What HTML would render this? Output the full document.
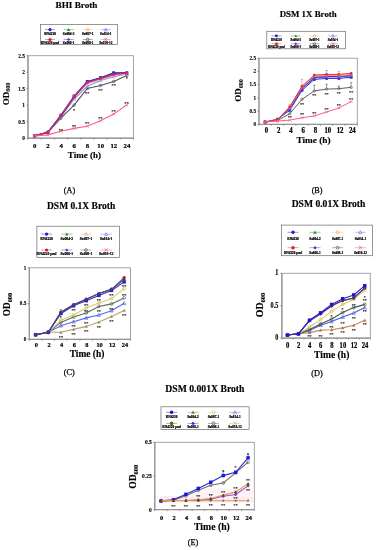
<!DOCTYPE html>
<html><head><meta charset="utf-8"><style>
html,body{margin:0;padding:0;background:#fff;}
svg{display:block;filter:blur(0.45px);}
</style></head><body>
<svg width="378" height="550" viewBox="0 0 378 550">
<rect width="378" height="550" fill="#fff"/>
<text x="76.50" y="8.30" font-family='"Liberation Serif", serif' font-size="9.2" font-weight="bold" text-anchor="middle" fill="#000" stroke="#000" stroke-width="0.15">BHI Broth</text>
<rect x="40.4" y="24.6" width="77.1" height="19.799999999999997" fill="none" stroke="#6a6a6a" stroke-width="0.7"/>
<line x1="45.00" y1="29.60" x2="55.00" y2="29.60" stroke="#1a1ad8" stroke-width="0.6" stroke-opacity="0.75"/>
<circle cx="50.00" cy="29.60" r="1.60" fill="#1a1ad8"/>
<text x="50.00" y="34.62" font-family='"Liberation Serif", serif' font-size="3.4" font-weight="bold" text-anchor="middle" fill="#000" stroke="#000" stroke-width="0.2">RN4220</text>
<line x1="63.60" y1="29.60" x2="73.60" y2="29.60" stroke="#2a8a2a" stroke-width="0.6" stroke-opacity="0.75"/>
<path d="M68.60,28.00L70.20,30.88L67.00,30.88Z" fill="#2a8a2a"/>
<text x="68.60" y="34.62" font-family='"Liberation Serif", serif' font-size="3.4" font-weight="bold" text-anchor="middle" fill="#000" stroke="#000" stroke-width="0.2">Sa004-2</text>
<line x1="82.70" y1="29.60" x2="92.70" y2="29.60" stroke="#f0a868" stroke-width="0.6" stroke-opacity="0.75"/>
<circle cx="87.70" cy="29.60" r="1.36" fill="none" stroke="#f0a868" stroke-width="0.7"/>
<text x="87.70" y="34.62" font-family='"Liberation Serif", serif' font-size="3.4" font-weight="bold" text-anchor="middle" fill="#000" stroke="#000" stroke-width="0.2">Sa007-1</text>
<line x1="100.80" y1="29.60" x2="110.80" y2="29.60" stroke="#6a6af0" stroke-width="0.6" stroke-opacity="0.75"/>
<path d="M105.80,28.00L107.40,30.88L104.20,30.88Z" fill="none" stroke="#6a6af0" stroke-width="0.6"/>
<text x="105.80" y="34.62" font-family='"Liberation Serif", serif' font-size="3.4" font-weight="bold" text-anchor="middle" fill="#000" stroke="#000" stroke-width="0.2">Sa014-1</text>
<line x1="45.00" y1="39.50" x2="55.00" y2="39.50" stroke="#e01828" stroke-width="0.6" stroke-opacity="0.75"/>
<circle cx="50.00" cy="39.50" r="1.60" fill="#e01828"/>
<text x="50.00" y="43.92" font-family='"Liberation Serif", serif' font-size="3.4" font-weight="bold" text-anchor="middle" fill="#000" stroke="#000" stroke-width="0.2">RN4220 pmf</text>
<line x1="63.60" y1="39.50" x2="73.60" y2="39.50" stroke="#7020d0" stroke-width="0.6" stroke-opacity="0.75"/>
<path d="M68.60,37.90L70.20,39.50L68.60,41.10L67.00,39.50Z" fill="#7020d0"/>
<text x="68.60" y="43.92" font-family='"Liberation Serif", serif' font-size="3.4" font-weight="bold" text-anchor="middle" fill="#000" stroke="#000" stroke-width="0.2">Sa006-1</text>
<line x1="82.70" y1="39.50" x2="92.70" y2="39.50" stroke="#505050" stroke-width="0.6" stroke-opacity="0.75"/>
<circle cx="87.70" cy="39.50" r="1.36" fill="none" stroke="#505050" stroke-width="0.7"/>
<text x="87.70" y="43.92" font-family='"Liberation Serif", serif' font-size="3.4" font-weight="bold" text-anchor="middle" fill="#000" stroke="#000" stroke-width="0.2">Sa008-1</text>
<line x1="100.80" y1="39.50" x2="110.80" y2="39.50" stroke="#f05070" stroke-width="0.6" stroke-opacity="0.75"/>
<path d="M104.20,37.90L107.40,41.10M107.40,37.90L104.20,41.10" stroke="#f05070" stroke-width="0.7"/>
<text x="105.80" y="43.92" font-family='"Liberation Serif", serif' font-size="3.4" font-weight="bold" text-anchor="middle" fill="#000" stroke="#000" stroke-width="0.2">Sa010-12</text>
<rect x="28" y="55.7" width="105.4" height="82.49999999999999" fill="none" stroke="#9a9a9a" stroke-width="0.9"/>
<line x1="28" y1="55.7" x2="28" y2="138.2" stroke="#959595" stroke-width="1.2"/>
<line x1="28" y1="138.2" x2="133.4" y2="138.2" stroke="#959595" stroke-width="1.3"/>
<line x1="26.5" y1="138.20" x2="28" y2="138.20" stroke="#6a6a6a" stroke-width="0.7"/>
<text transform="translate(25.00,140.04) scale(1,1.2)" font-family='"Liberation Serif", serif' font-size="5.4" font-weight="bold" text-anchor="end" stroke="#000" stroke-width="0.12">0</text>
<line x1="26.5" y1="121.70" x2="28" y2="121.70" stroke="#6a6a6a" stroke-width="0.7"/>
<text transform="translate(25.00,123.54) scale(1,1.2)" font-family='"Liberation Serif", serif' font-size="5.4" font-weight="bold" text-anchor="end" stroke="#000" stroke-width="0.12">0.5</text>
<line x1="26.5" y1="105.20" x2="28" y2="105.20" stroke="#6a6a6a" stroke-width="0.7"/>
<text transform="translate(25.00,107.04) scale(1,1.2)" font-family='"Liberation Serif", serif' font-size="5.4" font-weight="bold" text-anchor="end" stroke="#000" stroke-width="0.12">1</text>
<line x1="26.5" y1="88.70" x2="28" y2="88.70" stroke="#6a6a6a" stroke-width="0.7"/>
<text transform="translate(25.00,90.54) scale(1,1.2)" font-family='"Liberation Serif", serif' font-size="5.4" font-weight="bold" text-anchor="end" stroke="#000" stroke-width="0.12">1.5</text>
<line x1="26.5" y1="72.20" x2="28" y2="72.20" stroke="#6a6a6a" stroke-width="0.7"/>
<text transform="translate(25.00,74.04) scale(1,1.2)" font-family='"Liberation Serif", serif' font-size="5.4" font-weight="bold" text-anchor="end" stroke="#000" stroke-width="0.12">2</text>
<line x1="26.5" y1="55.70" x2="28" y2="55.70" stroke="#6a6a6a" stroke-width="0.7"/>
<text transform="translate(25.00,57.54) scale(1,1.2)" font-family='"Liberation Serif", serif' font-size="5.4" font-weight="bold" text-anchor="end" stroke="#000" stroke-width="0.12">2.5</text>
<line x1="28.00" y1="138.2" x2="28.00" y2="139.7" stroke="#6a6a6a" stroke-width="0.6"/>
<line x1="41.17" y1="138.2" x2="41.17" y2="139.7" stroke="#6a6a6a" stroke-width="0.6"/>
<line x1="54.35" y1="138.2" x2="54.35" y2="139.7" stroke="#6a6a6a" stroke-width="0.6"/>
<line x1="67.53" y1="138.2" x2="67.53" y2="139.7" stroke="#6a6a6a" stroke-width="0.6"/>
<line x1="80.70" y1="138.2" x2="80.70" y2="139.7" stroke="#6a6a6a" stroke-width="0.6"/>
<line x1="93.88" y1="138.2" x2="93.88" y2="139.7" stroke="#6a6a6a" stroke-width="0.6"/>
<line x1="107.05" y1="138.2" x2="107.05" y2="139.7" stroke="#6a6a6a" stroke-width="0.6"/>
<line x1="120.23" y1="138.2" x2="120.23" y2="139.7" stroke="#6a6a6a" stroke-width="0.6"/>
<line x1="133.40" y1="138.2" x2="133.40" y2="139.7" stroke="#6a6a6a" stroke-width="0.6"/>
<text transform="translate(34.79,148.41) scale(1,1.03)" font-family='"Liberation Serif", serif' font-size="6.8" font-weight="bold" text-anchor="middle" stroke="#000" stroke-width="0.2">0</text>
<text transform="translate(47.96,148.41) scale(1,1.03)" font-family='"Liberation Serif", serif' font-size="6.8" font-weight="bold" text-anchor="middle" stroke="#000" stroke-width="0.2">2</text>
<text transform="translate(61.14,148.41) scale(1,1.03)" font-family='"Liberation Serif", serif' font-size="6.8" font-weight="bold" text-anchor="middle" stroke="#000" stroke-width="0.2">4</text>
<text transform="translate(74.31,148.41) scale(1,1.03)" font-family='"Liberation Serif", serif' font-size="6.8" font-weight="bold" text-anchor="middle" stroke="#000" stroke-width="0.2">6</text>
<text transform="translate(87.49,148.41) scale(1,1.03)" font-family='"Liberation Serif", serif' font-size="6.8" font-weight="bold" text-anchor="middle" stroke="#000" stroke-width="0.2">8</text>
<text transform="translate(100.66,148.41) scale(1,1.03)" font-family='"Liberation Serif", serif' font-size="6.8" font-weight="bold" text-anchor="middle" stroke="#000" stroke-width="0.2">10</text>
<text transform="translate(113.84,148.41) scale(1,1.03)" font-family='"Liberation Serif", serif' font-size="6.8" font-weight="bold" text-anchor="middle" stroke="#000" stroke-width="0.2">12</text>
<text transform="translate(127.01,148.41) scale(1,1.03)" font-family='"Liberation Serif", serif' font-size="6.8" font-weight="bold" text-anchor="middle" stroke="#000" stroke-width="0.2">24</text>
<polyline points="34.59,135.90 47.76,132.50 60.94,118.20 74.11,105.10 87.29,88.40 100.46,85.50 113.64,81.50 126.81,75.50" fill="none" stroke="#505050" stroke-width="1.1"/>
<circle cx="34.59" cy="135.90" r="1.27" fill="none" stroke="#505050" stroke-width="0.7"/>
<circle cx="47.76" cy="132.50" r="1.27" fill="none" stroke="#505050" stroke-width="0.7"/>
<circle cx="60.94" cy="118.20" r="1.27" fill="none" stroke="#505050" stroke-width="0.7"/>
<circle cx="74.11" cy="105.10" r="1.27" fill="none" stroke="#505050" stroke-width="0.7"/>
<circle cx="87.29" cy="88.40" r="1.27" fill="none" stroke="#505050" stroke-width="0.7"/>
<circle cx="100.46" cy="85.50" r="1.27" fill="none" stroke="#505050" stroke-width="0.7"/>
<circle cx="113.64" cy="81.50" r="1.27" fill="none" stroke="#505050" stroke-width="0.7"/>
<circle cx="126.81" cy="75.50" r="1.27" fill="none" stroke="#505050" stroke-width="0.7"/>
<polyline points="34.59,135.90 47.76,132.50 60.94,117.00 74.11,99.00 87.29,86.20 100.46,80.40 113.64,76.70 126.81,74.00" fill="none" stroke="#8a8af0" stroke-width="1.1"/>
<path d="M34.59,134.40L36.09,137.10L33.09,137.10Z" fill="none" stroke="#8a8af0" stroke-width="0.6"/>
<path d="M47.76,131.00L49.26,133.70L46.26,133.70Z" fill="none" stroke="#8a8af0" stroke-width="0.6"/>
<path d="M60.94,115.50L62.44,118.20L59.44,118.20Z" fill="none" stroke="#8a8af0" stroke-width="0.6"/>
<path d="M74.11,97.50L75.61,100.20L72.61,100.20Z" fill="none" stroke="#8a8af0" stroke-width="0.6"/>
<path d="M87.29,84.70L88.79,87.40L85.79,87.40Z" fill="none" stroke="#8a8af0" stroke-width="0.6"/>
<path d="M100.46,78.90L101.96,81.60L98.96,81.60Z" fill="none" stroke="#8a8af0" stroke-width="0.6"/>
<path d="M113.64,75.20L115.14,77.90L112.14,77.90Z" fill="none" stroke="#8a8af0" stroke-width="0.6"/>
<path d="M126.81,72.50L128.31,75.20L125.31,75.20Z" fill="none" stroke="#8a8af0" stroke-width="0.6"/>
<polyline points="34.59,135.90 47.76,132.30 60.94,116.00 74.11,97.50 87.29,83.50 100.46,79.50 113.64,75.50 126.81,73.60" fill="none" stroke="#f0b080" stroke-width="1.1"/>
<circle cx="34.59" cy="135.90" r="1.27" fill="none" stroke="#f0b080" stroke-width="0.7"/>
<circle cx="47.76" cy="132.30" r="1.27" fill="none" stroke="#f0b080" stroke-width="0.7"/>
<circle cx="60.94" cy="116.00" r="1.27" fill="none" stroke="#f0b080" stroke-width="0.7"/>
<circle cx="74.11" cy="97.50" r="1.27" fill="none" stroke="#f0b080" stroke-width="0.7"/>
<circle cx="87.29" cy="83.50" r="1.27" fill="none" stroke="#f0b080" stroke-width="0.7"/>
<circle cx="100.46" cy="79.50" r="1.27" fill="none" stroke="#f0b080" stroke-width="0.7"/>
<circle cx="113.64" cy="75.50" r="1.27" fill="none" stroke="#f0b080" stroke-width="0.7"/>
<circle cx="126.81" cy="73.60" r="1.27" fill="none" stroke="#f0b080" stroke-width="0.7"/>
<polyline points="34.59,135.90 47.76,132.30 60.94,115.80 74.11,97.00 87.29,82.00 100.46,78.00 113.64,73.50 126.81,73.00" fill="none" stroke="#2a8a2a" stroke-width="1.1"/>
<path d="M34.59,134.40L36.09,137.10L33.09,137.10Z" fill="#2a8a2a"/>
<path d="M47.76,130.80L49.26,133.50L46.26,133.50Z" fill="#2a8a2a"/>
<path d="M60.94,114.30L62.44,117.00L59.44,117.00Z" fill="#2a8a2a"/>
<path d="M74.11,95.50L75.61,98.20L72.61,98.20Z" fill="#2a8a2a"/>
<path d="M87.29,80.50L88.79,83.20L85.79,83.20Z" fill="#2a8a2a"/>
<path d="M100.46,76.50L101.96,79.20L98.96,79.20Z" fill="#2a8a2a"/>
<path d="M113.64,72.00L115.14,74.70L112.14,74.70Z" fill="#2a8a2a"/>
<path d="M126.81,71.50L128.31,74.20L125.31,74.20Z" fill="#2a8a2a"/>
<polyline points="34.59,135.90 47.76,132.30 60.94,116.00 74.11,97.00 87.29,82.00 100.46,78.00 113.64,73.00 126.81,72.80" fill="none" stroke="#7020d0" stroke-width="1.1"/>
<path d="M34.59,134.40L36.09,135.90L34.59,137.40L33.09,135.90Z" fill="#7020d0"/>
<path d="M47.76,130.80L49.26,132.30L47.76,133.80L46.26,132.30Z" fill="#7020d0"/>
<path d="M60.94,114.50L62.44,116.00L60.94,117.50L59.44,116.00Z" fill="#7020d0"/>
<path d="M74.11,95.50L75.61,97.00L74.11,98.50L72.61,97.00Z" fill="#7020d0"/>
<path d="M87.29,80.50L88.79,82.00L87.29,83.50L85.79,82.00Z" fill="#7020d0"/>
<path d="M100.46,76.50L101.96,78.00L100.46,79.50L98.96,78.00Z" fill="#7020d0"/>
<path d="M113.64,71.50L115.14,73.00L113.64,74.50L112.14,73.00Z" fill="#7020d0"/>
<path d="M126.81,71.30L128.31,72.80L126.81,74.30L125.31,72.80Z" fill="#7020d0"/>
<polyline points="34.59,135.90 47.76,132.30 60.94,115.30 74.11,96.10 87.29,81.50 100.46,77.70 113.64,72.80 126.81,72.80" fill="none" stroke="#3a30c8" stroke-width="1.1"/>
<rect x="33.09" y="134.40" width="3.00" height="3.00" fill="#2a2ad8"/>
<rect x="46.26" y="130.80" width="3.00" height="3.00" fill="#2a2ad8"/>
<rect x="59.44" y="113.80" width="3.00" height="3.00" fill="#2a2ad8"/>
<rect x="72.61" y="94.60" width="3.00" height="3.00" fill="#2a2ad8"/>
<rect x="85.79" y="80.00" width="3.00" height="3.00" fill="#2a2ad8"/>
<rect x="98.96" y="76.20" width="3.00" height="3.00" fill="#2a2ad8"/>
<rect x="112.14" y="71.30" width="3.00" height="3.00" fill="#2a2ad8"/>
<rect x="125.31" y="71.30" width="3.00" height="3.00" fill="#2a2ad8"/>
<polyline points="34.59,135.90 47.76,132.30 60.94,115.00 74.11,96.00 87.29,82.60 100.46,78.60 113.64,74.60 126.81,73.20" fill="none" stroke="#d82860" stroke-width="1.1"/>
<circle cx="34.59" cy="135.90" r="1.50" fill="#d82860"/>
<circle cx="47.76" cy="132.30" r="1.50" fill="#d82860"/>
<circle cx="60.94" cy="115.00" r="1.50" fill="#d82860"/>
<circle cx="74.11" cy="96.00" r="1.50" fill="#d82860"/>
<circle cx="87.29" cy="82.60" r="1.50" fill="#d82860"/>
<circle cx="100.46" cy="78.60" r="1.50" fill="#d82860"/>
<circle cx="113.64" cy="74.60" r="1.50" fill="#d82860"/>
<circle cx="126.81" cy="73.20" r="1.50" fill="#d82860"/>
<polyline points="34.59,135.90 47.76,134.90 60.94,131.30 74.11,128.40 87.29,126.20 100.46,120.80 113.64,114.10 126.81,104.80" fill="none" stroke="#f86080" stroke-width="1.1"/>
<path d="M33.09,134.40L36.09,137.40M36.09,134.40L33.09,137.40" stroke="#f86080" stroke-width="0.7"/>
<path d="M46.26,133.40L49.26,136.40M49.26,133.40L46.26,136.40" stroke="#f86080" stroke-width="0.7"/>
<path d="M59.44,129.80L62.44,132.80M62.44,129.80L59.44,132.80" stroke="#f86080" stroke-width="0.7"/>
<path d="M72.61,126.90L75.61,129.90M75.61,126.90L72.61,129.90" stroke="#f86080" stroke-width="0.7"/>
<path d="M85.79,124.70L88.79,127.70M88.79,124.70L85.79,127.70" stroke="#f86080" stroke-width="0.7"/>
<path d="M98.96,119.30L101.96,122.30M101.96,119.30L98.96,122.30" stroke="#f86080" stroke-width="0.7"/>
<path d="M112.14,112.60L115.14,115.60M115.14,112.60L112.14,115.60" stroke="#f86080" stroke-width="0.7"/>
<path d="M125.31,103.30L128.31,106.30M128.31,103.30L125.31,106.30" stroke="#f86080" stroke-width="0.7"/>
<text x="60.94" y="131.52" font-family='"Liberation Serif", serif' font-size="4.4" font-weight="bold" text-anchor="middle" fill="#151515" stroke="#151515" stroke-width="0.06">**</text>
<text x="74.11" y="127.52" font-family='"Liberation Serif", serif' font-size="4.4" font-weight="bold" text-anchor="middle" fill="#151515" stroke="#151515" stroke-width="0.06">**</text>
<text x="87.29" y="124.82" font-family='"Liberation Serif", serif' font-size="4.4" font-weight="bold" text-anchor="middle" fill="#151515" stroke="#151515" stroke-width="0.06">**</text>
<text x="100.46" y="119.72" font-family='"Liberation Serif", serif' font-size="4.4" font-weight="bold" text-anchor="middle" fill="#151515" stroke="#151515" stroke-width="0.06">**</text>
<text x="113.64" y="112.92" font-family='"Liberation Serif", serif' font-size="4.4" font-weight="bold" text-anchor="middle" fill="#151515" stroke="#151515" stroke-width="0.06">**</text>
<text x="126.81" y="104.52" font-family='"Liberation Serif", serif' font-size="4.4" font-weight="bold" text-anchor="middle" fill="#151515" stroke="#151515" stroke-width="0.06">**</text>
<text x="87.29" y="95.22" font-family='"Liberation Serif", serif' font-size="4.4" font-weight="bold" text-anchor="middle" fill="#151515" stroke="#151515" stroke-width="0.06">**</text>
<text x="100.46" y="91.82" font-family='"Liberation Serif", serif' font-size="4.4" font-weight="bold" text-anchor="middle" fill="#151515" stroke="#151515" stroke-width="0.06">**</text>
<text x="113.64" y="87.02" font-family='"Liberation Serif", serif' font-size="4.4" font-weight="bold" text-anchor="middle" fill="#151515" stroke="#151515" stroke-width="0.06">**</text>
<text x="74.11" y="111.52" font-family='"Liberation Serif", serif' font-size="4.4" font-weight="bold" text-anchor="middle" fill="#151515" stroke="#151515" stroke-width="0.06">*</text>
<text x="126.81" y="80.22" font-family='"Liberation Serif", serif' font-size="4.4" font-weight="bold" text-anchor="middle" fill="#151515" stroke="#151515" stroke-width="0.06">*</text>
<text transform="translate(8.5,94.0) rotate(-90)" font-family='"Liberation Serif", serif' font-size="9.0" font-weight="bold" text-anchor="middle" stroke="#000" stroke-width="0.15">OD<tspan font-size="6.12" dy="1.98">600</tspan></text>
<text x="84.40" y="158.30" font-family='"Liberation Serif", serif' font-size="9.0" font-weight="bold" text-anchor="middle" fill="#000" stroke="#000" stroke-width="0.15">Time (h)</text>
<text x="69.50" y="192.50" font-family='"Liberation Serif", serif' font-size="8.2" font-weight="normal" text-anchor="middle" fill="#000" stroke="#000" stroke-width="0.25">(A)</text>
<text x="308.20" y="17.20" font-family='"Liberation Serif", serif' font-size="8.9" font-weight="bold" text-anchor="middle" fill="#000" stroke="#000" stroke-width="0.15">DSM 1X Broth</text>
<rect x="266.8" y="31.3" width="78.80000000000001" height="17.499999999999996" fill="none" stroke="#6a6a6a" stroke-width="0.7"/>
<line x1="271.40" y1="35.90" x2="281.40" y2="35.90" stroke="#1a1ad8" stroke-width="0.6" stroke-opacity="0.75"/>
<circle cx="276.40" cy="35.90" r="1.40" fill="#1a1ad8"/>
<text x="276.40" y="40.72" font-family='"Liberation Serif", serif' font-size="3.1" font-weight="bold" text-anchor="middle" fill="#000" stroke="#000" stroke-width="0.2">RN4220</text>
<line x1="290.80" y1="35.90" x2="300.80" y2="35.90" stroke="#2a8a2a" stroke-width="0.6" stroke-opacity="0.75"/>
<path d="M295.80,34.50L297.20,37.02L294.40,37.02Z" fill="#2a8a2a"/>
<text x="295.80" y="40.72" font-family='"Liberation Serif", serif' font-size="3.1" font-weight="bold" text-anchor="middle" fill="#000" stroke="#000" stroke-width="0.2">Sa004-2</text>
<line x1="309.40" y1="35.90" x2="319.40" y2="35.90" stroke="#f0a868" stroke-width="0.6" stroke-opacity="0.75"/>
<circle cx="314.40" cy="35.90" r="1.19" fill="none" stroke="#f0a868" stroke-width="0.7"/>
<text x="314.40" y="40.72" font-family='"Liberation Serif", serif' font-size="3.1" font-weight="bold" text-anchor="middle" fill="#000" stroke="#000" stroke-width="0.2">Sa007-1</text>
<line x1="328.00" y1="35.90" x2="338.00" y2="35.90" stroke="#6a6af0" stroke-width="0.6" stroke-opacity="0.75"/>
<path d="M333.00,34.50L334.40,37.02L331.60,37.02Z" fill="none" stroke="#6a6af0" stroke-width="0.6"/>
<text x="333.00" y="40.72" font-family='"Liberation Serif", serif' font-size="3.1" font-weight="bold" text-anchor="middle" fill="#000" stroke="#000" stroke-width="0.2">Sa014-1</text>
<line x1="271.40" y1="43.80" x2="281.40" y2="43.80" stroke="#e01828" stroke-width="0.6" stroke-opacity="0.75"/>
<circle cx="276.40" cy="43.80" r="1.40" fill="#e01828"/>
<text x="276.40" y="47.92" font-family='"Liberation Serif", serif' font-size="3.1" font-weight="bold" text-anchor="middle" fill="#000" stroke="#000" stroke-width="0.2">RN4220 pmf</text>
<line x1="290.80" y1="43.80" x2="300.80" y2="43.80" stroke="#7020d0" stroke-width="0.6" stroke-opacity="0.75"/>
<path d="M295.80,42.40L297.20,43.80L295.80,45.20L294.40,43.80Z" fill="#7020d0"/>
<text x="295.80" y="47.92" font-family='"Liberation Serif", serif' font-size="3.1" font-weight="bold" text-anchor="middle" fill="#000" stroke="#000" stroke-width="0.2">Sa006-1</text>
<line x1="309.40" y1="43.80" x2="319.40" y2="43.80" stroke="#505050" stroke-width="0.6" stroke-opacity="0.75"/>
<circle cx="314.40" cy="43.80" r="1.19" fill="none" stroke="#505050" stroke-width="0.7"/>
<text x="314.40" y="47.92" font-family='"Liberation Serif", serif' font-size="3.1" font-weight="bold" text-anchor="middle" fill="#000" stroke="#000" stroke-width="0.2">Sa008-1</text>
<line x1="328.00" y1="43.80" x2="338.00" y2="43.80" stroke="#f05070" stroke-width="0.6" stroke-opacity="0.75"/>
<path d="M331.60,42.40L334.40,45.20M334.40,42.40L331.60,45.20" stroke="#f05070" stroke-width="0.7"/>
<text x="333.00" y="47.92" font-family='"Liberation Serif", serif' font-size="3.1" font-weight="bold" text-anchor="middle" fill="#000" stroke="#000" stroke-width="0.2">Sa010-12</text>
<rect x="259" y="58.2" width="98.30000000000001" height="66.2" fill="none" stroke="#9a9a9a" stroke-width="0.9"/>
<line x1="259" y1="58.2" x2="259" y2="124.4" stroke="#959595" stroke-width="1.2"/>
<line x1="259" y1="124.4" x2="357.3" y2="124.4" stroke="#959595" stroke-width="1.3"/>
<line x1="257.5" y1="124.40" x2="259" y2="124.40" stroke="#6a6a6a" stroke-width="0.7"/>
<text transform="translate(256.00,126.16) scale(1,1.2)" font-family='"Liberation Serif", serif' font-size="5.2" font-weight="bold" text-anchor="end" stroke="#000" stroke-width="0.12">0</text>
<line x1="257.5" y1="111.16" x2="259" y2="111.16" stroke="#6a6a6a" stroke-width="0.7"/>
<text transform="translate(256.00,112.92) scale(1,1.2)" font-family='"Liberation Serif", serif' font-size="5.2" font-weight="bold" text-anchor="end" stroke="#000" stroke-width="0.12">0.5</text>
<line x1="257.5" y1="97.92" x2="259" y2="97.92" stroke="#6a6a6a" stroke-width="0.7"/>
<text transform="translate(256.00,99.68) scale(1,1.2)" font-family='"Liberation Serif", serif' font-size="5.2" font-weight="bold" text-anchor="end" stroke="#000" stroke-width="0.12">1</text>
<line x1="257.5" y1="84.68" x2="259" y2="84.68" stroke="#6a6a6a" stroke-width="0.7"/>
<text transform="translate(256.00,86.44) scale(1,1.2)" font-family='"Liberation Serif", serif' font-size="5.2" font-weight="bold" text-anchor="end" stroke="#000" stroke-width="0.12">1.5</text>
<line x1="257.5" y1="71.44" x2="259" y2="71.44" stroke="#6a6a6a" stroke-width="0.7"/>
<text transform="translate(256.00,73.20) scale(1,1.2)" font-family='"Liberation Serif", serif' font-size="5.2" font-weight="bold" text-anchor="end" stroke="#000" stroke-width="0.12">2</text>
<line x1="257.5" y1="58.20" x2="259" y2="58.20" stroke="#6a6a6a" stroke-width="0.7"/>
<text transform="translate(256.00,59.96) scale(1,1.2)" font-family='"Liberation Serif", serif' font-size="5.2" font-weight="bold" text-anchor="end" stroke="#000" stroke-width="0.12">2.5</text>
<line x1="259.00" y1="124.4" x2="259.00" y2="125.9" stroke="#6a6a6a" stroke-width="0.6"/>
<line x1="271.29" y1="124.4" x2="271.29" y2="125.9" stroke="#6a6a6a" stroke-width="0.6"/>
<line x1="283.57" y1="124.4" x2="283.57" y2="125.9" stroke="#6a6a6a" stroke-width="0.6"/>
<line x1="295.86" y1="124.4" x2="295.86" y2="125.9" stroke="#6a6a6a" stroke-width="0.6"/>
<line x1="308.15" y1="124.4" x2="308.15" y2="125.9" stroke="#6a6a6a" stroke-width="0.6"/>
<line x1="320.44" y1="124.4" x2="320.44" y2="125.9" stroke="#6a6a6a" stroke-width="0.6"/>
<line x1="332.73" y1="124.4" x2="332.73" y2="125.9" stroke="#6a6a6a" stroke-width="0.6"/>
<line x1="345.01" y1="124.4" x2="345.01" y2="125.9" stroke="#6a6a6a" stroke-width="0.6"/>
<line x1="357.30" y1="124.4" x2="357.30" y2="125.9" stroke="#6a6a6a" stroke-width="0.6"/>
<text transform="translate(266.34,132.79) scale(1,1.2)" font-family='"Liberation Serif", serif' font-size="6.8" font-weight="bold" text-anchor="middle" stroke="#000" stroke-width="0.2">0</text>
<text transform="translate(278.63,132.79) scale(1,1.2)" font-family='"Liberation Serif", serif' font-size="6.8" font-weight="bold" text-anchor="middle" stroke="#000" stroke-width="0.2">2</text>
<text transform="translate(290.92,132.79) scale(1,1.2)" font-family='"Liberation Serif", serif' font-size="6.8" font-weight="bold" text-anchor="middle" stroke="#000" stroke-width="0.2">4</text>
<text transform="translate(303.21,132.79) scale(1,1.2)" font-family='"Liberation Serif", serif' font-size="6.8" font-weight="bold" text-anchor="middle" stroke="#000" stroke-width="0.2">6</text>
<text transform="translate(315.49,132.79) scale(1,1.2)" font-family='"Liberation Serif", serif' font-size="6.8" font-weight="bold" text-anchor="middle" stroke="#000" stroke-width="0.2">8</text>
<text transform="translate(327.78,132.79) scale(1,1.2)" font-family='"Liberation Serif", serif' font-size="6.8" font-weight="bold" text-anchor="middle" stroke="#000" stroke-width="0.2">10</text>
<text transform="translate(340.07,132.79) scale(1,1.2)" font-family='"Liberation Serif", serif' font-size="6.8" font-weight="bold" text-anchor="middle" stroke="#000" stroke-width="0.2">12</text>
<text transform="translate(352.36,132.79) scale(1,1.2)" font-family='"Liberation Serif", serif' font-size="6.8" font-weight="bold" text-anchor="middle" stroke="#000" stroke-width="0.2">24</text>
<polyline points="265.14,122.00 277.43,120.50 289.72,113.70 302.01,99.30 314.29,90.90 326.58,89.10 338.87,88.70 351.16,87.30" fill="none" stroke="#606060" stroke-width="1.0"/>
<circle cx="265.14" cy="122.00" r="1.19" fill="none" stroke="#606060" stroke-width="0.7"/>
<circle cx="277.43" cy="120.50" r="1.19" fill="none" stroke="#606060" stroke-width="0.7"/>
<circle cx="289.72" cy="113.70" r="1.19" fill="none" stroke="#606060" stroke-width="0.7"/>
<circle cx="302.01" cy="99.30" r="1.19" fill="none" stroke="#606060" stroke-width="0.7"/>
<circle cx="314.29" cy="90.90" r="1.19" fill="none" stroke="#606060" stroke-width="0.7"/>
<circle cx="326.58" cy="89.10" r="1.19" fill="none" stroke="#606060" stroke-width="0.7"/>
<circle cx="338.87" cy="88.70" r="1.19" fill="none" stroke="#606060" stroke-width="0.7"/>
<circle cx="351.16" cy="87.30" r="1.19" fill="none" stroke="#606060" stroke-width="0.7"/>
<polyline points="265.14,122.00 277.43,119.20 289.72,110.30 302.01,90.30 314.29,79.40 326.58,78.40 338.87,78.40 351.16,77.30" fill="none" stroke="#2828d0" stroke-width="1.0"/>
<rect x="263.74" y="120.60" width="2.80" height="2.80" fill="#1818d0"/>
<rect x="276.03" y="117.80" width="2.80" height="2.80" fill="#1818d0"/>
<rect x="288.32" y="108.90" width="2.80" height="2.80" fill="#1818d0"/>
<rect x="300.61" y="88.90" width="2.80" height="2.80" fill="#1818d0"/>
<rect x="312.89" y="78.00" width="2.80" height="2.80" fill="#1818d0"/>
<rect x="325.18" y="77.00" width="2.80" height="2.80" fill="#1818d0"/>
<rect x="337.47" y="77.00" width="2.80" height="2.80" fill="#1818d0"/>
<rect x="349.76" y="75.90" width="2.80" height="2.80" fill="#1818d0"/>
<polyline points="265.14,122.00 277.43,120.00 289.72,109.00 302.01,89.00 314.29,78.00 326.58,77.00 338.87,77.00 351.16,76.00" fill="none" stroke="#7070e8" stroke-width="1.0"/>
<path d="M265.14,120.60L266.54,123.12L263.74,123.12Z" fill="none" stroke="#7070e8" stroke-width="0.6"/>
<path d="M277.43,118.60L278.83,121.12L276.03,121.12Z" fill="none" stroke="#7070e8" stroke-width="0.6"/>
<path d="M289.72,107.60L291.12,110.12L288.32,110.12Z" fill="none" stroke="#7070e8" stroke-width="0.6"/>
<path d="M302.01,87.60L303.41,90.12L300.61,90.12Z" fill="none" stroke="#7070e8" stroke-width="0.6"/>
<path d="M314.29,76.60L315.69,79.12L312.89,79.12Z" fill="none" stroke="#7070e8" stroke-width="0.6"/>
<path d="M326.58,75.60L327.98,78.12L325.18,78.12Z" fill="none" stroke="#7070e8" stroke-width="0.6"/>
<path d="M338.87,75.60L340.27,78.12L337.47,78.12Z" fill="none" stroke="#7070e8" stroke-width="0.6"/>
<path d="M351.16,74.60L352.56,77.12L349.76,77.12Z" fill="none" stroke="#7070e8" stroke-width="0.6"/>
<polyline points="265.14,122.00 277.43,120.00 289.72,108.00 302.01,88.00 314.29,77.00 326.58,76.50 338.87,76.50 351.16,75.50" fill="none" stroke="#30a060" stroke-width="1.0"/>
<path d="M265.14,120.60L266.54,123.12L263.74,123.12Z" fill="#30a060"/>
<path d="M277.43,118.60L278.83,121.12L276.03,121.12Z" fill="#30a060"/>
<path d="M289.72,106.60L291.12,109.12L288.32,109.12Z" fill="#30a060"/>
<path d="M302.01,86.60L303.41,89.12L300.61,89.12Z" fill="#30a060"/>
<path d="M314.29,75.60L315.69,78.12L312.89,78.12Z" fill="#30a060"/>
<path d="M326.58,75.10L327.98,77.62L325.18,77.62Z" fill="#30a060"/>
<path d="M338.87,75.10L340.27,77.62L337.47,77.62Z" fill="#30a060"/>
<path d="M351.16,74.10L352.56,76.62L349.76,76.62Z" fill="#30a060"/>
<polyline points="265.14,122.00 277.43,120.00 289.72,108.50 302.01,88.50 314.29,77.50 326.58,76.50 338.87,76.50 351.16,75.50" fill="none" stroke="#7020d0" stroke-width="1.0"/>
<path d="M265.14,120.60L266.54,122.00L265.14,123.40L263.74,122.00Z" fill="#7020d0"/>
<path d="M277.43,118.60L278.83,120.00L277.43,121.40L276.03,120.00Z" fill="#7020d0"/>
<path d="M289.72,107.10L291.12,108.50L289.72,109.90L288.32,108.50Z" fill="#7020d0"/>
<path d="M302.01,87.10L303.41,88.50L302.01,89.90L300.61,88.50Z" fill="#7020d0"/>
<path d="M314.29,76.10L315.69,77.50L314.29,78.90L312.89,77.50Z" fill="#7020d0"/>
<path d="M326.58,75.10L327.98,76.50L326.58,77.90L325.18,76.50Z" fill="#7020d0"/>
<path d="M338.87,75.10L340.27,76.50L338.87,77.90L337.47,76.50Z" fill="#7020d0"/>
<path d="M351.16,74.10L352.56,75.50L351.16,76.90L349.76,75.50Z" fill="#7020d0"/>
<polyline points="265.14,122.00 277.43,120.00 289.72,107.50 302.01,87.00 314.29,76.00 326.58,75.50 338.87,75.50 351.16,74.50" fill="none" stroke="#f0a070" stroke-width="1.0"/>
<circle cx="265.14" cy="122.00" r="1.19" fill="none" stroke="#f0a070" stroke-width="0.7"/>
<circle cx="277.43" cy="120.00" r="1.19" fill="none" stroke="#f0a070" stroke-width="0.7"/>
<circle cx="289.72" cy="107.50" r="1.19" fill="none" stroke="#f0a070" stroke-width="0.7"/>
<circle cx="302.01" cy="87.00" r="1.19" fill="none" stroke="#f0a070" stroke-width="0.7"/>
<circle cx="314.29" cy="76.00" r="1.19" fill="none" stroke="#f0a070" stroke-width="0.7"/>
<circle cx="326.58" cy="75.50" r="1.19" fill="none" stroke="#f0a070" stroke-width="0.7"/>
<circle cx="338.87" cy="75.50" r="1.19" fill="none" stroke="#f0a070" stroke-width="0.7"/>
<circle cx="351.16" cy="74.50" r="1.19" fill="none" stroke="#f0a070" stroke-width="0.7"/>
<polyline points="265.14,122.00 277.43,119.80 289.72,106.80 302.01,86.20 314.29,75.10 326.58,74.40 338.87,74.40 351.16,73.40" fill="none" stroke="#e02840" stroke-width="1.0"/>
<circle cx="265.14" cy="122.00" r="1.40" fill="#e02840"/>
<circle cx="277.43" cy="119.80" r="1.40" fill="#e02840"/>
<circle cx="289.72" cy="106.80" r="1.40" fill="#e02840"/>
<circle cx="302.01" cy="86.20" r="1.40" fill="#e02840"/>
<circle cx="314.29" cy="75.10" r="1.40" fill="#e02840"/>
<circle cx="326.58" cy="74.40" r="1.40" fill="#e02840"/>
<circle cx="338.87" cy="74.40" r="1.40" fill="#e02840"/>
<circle cx="351.16" cy="73.40" r="1.40" fill="#e02840"/>
<polyline points="265.14,122.00 277.43,121.00 289.72,120.20 302.01,117.80 314.29,115.90 326.58,112.00 338.87,108.00 351.16,101.60" fill="none" stroke="#f86080" stroke-width="1.0"/>
<path d="M263.74,120.60L266.54,123.40M266.54,120.60L263.74,123.40" stroke="#f86080" stroke-width="0.7"/>
<path d="M276.03,119.60L278.83,122.40M278.83,119.60L276.03,122.40" stroke="#f86080" stroke-width="0.7"/>
<path d="M288.32,118.80L291.12,121.60M291.12,118.80L288.32,121.60" stroke="#f86080" stroke-width="0.7"/>
<path d="M300.61,116.40L303.41,119.20M303.41,116.40L300.61,119.20" stroke="#f86080" stroke-width="0.7"/>
<path d="M312.89,114.50L315.69,117.30M315.69,114.50L312.89,117.30" stroke="#f86080" stroke-width="0.7"/>
<path d="M325.18,110.60L327.98,113.40M327.98,110.60L325.18,113.40" stroke="#f86080" stroke-width="0.7"/>
<path d="M337.47,106.60L340.27,109.40M340.27,106.60L337.47,109.40" stroke="#f86080" stroke-width="0.7"/>
<path d="M349.76,100.20L352.56,103.00M352.56,100.20L349.76,103.00" stroke="#f86080" stroke-width="0.7"/>
<path d="M302.01,79.30V86.20M300.81,79.30H303.21" stroke="#e08080" stroke-width="0.6" fill="none"/>
<path d="M314.29,85.10V90.90M313.09,85.10H315.49" stroke="#606060" stroke-width="0.6" fill="none"/>
<path d="M326.58,84.40V89.10M325.38,84.40H327.78" stroke="#606060" stroke-width="0.6" fill="none"/>
<path d="M338.87,86.00V88.70M337.67,86.00H340.07" stroke="#606060" stroke-width="0.6" fill="none"/>
<path d="M351.16,82.60V87.30M349.96,82.60H352.36" stroke="#606060" stroke-width="0.6" fill="none"/>
<path d="M326.58,70.50V74.40M325.38,70.50H327.78" stroke="#8080e0" stroke-width="0.6" fill="none"/>
<path d="M338.87,71.50V74.40M337.67,71.50H340.07" stroke="#e08080" stroke-width="0.6" fill="none"/>
<path d="M289.72,104.50V106.80M288.52,104.50H290.92" stroke="#e08080" stroke-width="0.6" fill="none"/>
<text x="289.72" y="119.33" font-family='"Liberation Serif", serif' font-size="4.2" font-weight="bold" text-anchor="middle" fill="#151515" stroke="#151515" stroke-width="0.06">**</text>
<text x="302.01" y="116.33" font-family='"Liberation Serif", serif' font-size="4.2" font-weight="bold" text-anchor="middle" fill="#151515" stroke="#151515" stroke-width="0.06">**</text>
<text x="314.29" y="114.53" font-family='"Liberation Serif", serif' font-size="4.2" font-weight="bold" text-anchor="middle" fill="#151515" stroke="#151515" stroke-width="0.06">**</text>
<text x="326.58" y="110.63" font-family='"Liberation Serif", serif' font-size="4.2" font-weight="bold" text-anchor="middle" fill="#151515" stroke="#151515" stroke-width="0.06">**</text>
<text x="338.87" y="106.83" font-family='"Liberation Serif", serif' font-size="4.2" font-weight="bold" text-anchor="middle" fill="#151515" stroke="#151515" stroke-width="0.06">**</text>
<text x="351.16" y="101.03" font-family='"Liberation Serif", serif' font-size="4.2" font-weight="bold" text-anchor="middle" fill="#151515" stroke="#151515" stroke-width="0.06">**</text>
<text x="302.01" y="105.63" font-family='"Liberation Serif", serif' font-size="4.2" font-weight="bold" text-anchor="middle" fill="#151515" stroke="#151515" stroke-width="0.06">**</text>
<text x="314.29" y="97.33" font-family='"Liberation Serif", serif' font-size="4.2" font-weight="bold" text-anchor="middle" fill="#151515" stroke="#151515" stroke-width="0.06">**</text>
<text x="326.58" y="95.63" font-family='"Liberation Serif", serif' font-size="4.2" font-weight="bold" text-anchor="middle" fill="#151515" stroke="#151515" stroke-width="0.06">**</text>
<text x="338.87" y="95.33" font-family='"Liberation Serif", serif' font-size="4.2" font-weight="bold" text-anchor="middle" fill="#151515" stroke="#151515" stroke-width="0.06">**</text>
<text x="351.16" y="93.53" font-family='"Liberation Serif", serif' font-size="4.2" font-weight="bold" text-anchor="middle" fill="#151515" stroke="#151515" stroke-width="0.06">**</text>
<text transform="translate(241.4,90.5) rotate(-90)" font-family='"Liberation Serif", serif' font-size="9.0" font-weight="bold" text-anchor="middle" stroke="#000" stroke-width="0.15">OD<tspan font-size="6.12" dy="1.98">600</tspan></text>
<text x="313.50" y="142.60" font-family='"Liberation Serif", serif' font-size="9.25" font-weight="bold" text-anchor="middle" fill="#000" stroke="#000" stroke-width="0.15">Time (h)</text>
<text x="317.10" y="192.50" font-family='"Liberation Serif", serif' font-size="8.2" font-weight="normal" text-anchor="middle" fill="#000" stroke="#000" stroke-width="0.25">(B)</text>
<text x="81.10" y="208.90" font-family='"Liberation Serif", serif' font-size="9.5" font-weight="bold" text-anchor="middle" fill="#000" stroke="#000" stroke-width="0.15">DSM 0.1X Broth</text>
<rect x="36.9" y="226.2" width="82.6" height="31.400000000000034" fill="none" stroke="#6a6a6a" stroke-width="0.7"/>
<line x1="41.10" y1="234.10" x2="52.10" y2="234.10" stroke="#1a1ad8" stroke-width="0.6" stroke-opacity="0.75"/>
<circle cx="46.60" cy="234.10" r="1.60" fill="#1a1ad8"/>
<text x="46.60" y="240.23" font-family='"Liberation Serif", serif' font-size="3.7" font-weight="bold" text-anchor="middle" fill="#000" stroke="#000" stroke-width="0.2">RN4220</text>
<line x1="61.30" y1="234.10" x2="72.30" y2="234.10" stroke="#2a8a2a" stroke-width="0.6" stroke-opacity="0.75"/>
<path d="M66.80,232.50L68.40,235.38L65.20,235.38Z" fill="#2a8a2a"/>
<text x="66.80" y="240.23" font-family='"Liberation Serif", serif' font-size="3.7" font-weight="bold" text-anchor="middle" fill="#000" stroke="#000" stroke-width="0.2">Sa004-2</text>
<line x1="80.50" y1="234.10" x2="91.50" y2="234.10" stroke="#f0a868" stroke-width="0.6" stroke-opacity="0.75"/>
<circle cx="86.00" cy="234.10" r="1.36" fill="none" stroke="#f0a868" stroke-width="0.7"/>
<text x="86.00" y="240.23" font-family='"Liberation Serif", serif' font-size="3.7" font-weight="bold" text-anchor="middle" fill="#000" stroke="#000" stroke-width="0.2">Sa007-1</text>
<line x1="100.70" y1="234.10" x2="111.70" y2="234.10" stroke="#6a6af0" stroke-width="0.6" stroke-opacity="0.75"/>
<path d="M106.20,232.50L107.80,235.38L104.60,235.38Z" fill="none" stroke="#6a6af0" stroke-width="0.6"/>
<text x="106.20" y="240.23" font-family='"Liberation Serif", serif' font-size="3.7" font-weight="bold" text-anchor="middle" fill="#000" stroke="#000" stroke-width="0.2">Sa014-1</text>
<line x1="41.10" y1="250.00" x2="52.10" y2="250.00" stroke="#e01828" stroke-width="0.6" stroke-opacity="0.75"/>
<circle cx="46.60" cy="250.00" r="1.60" fill="#e01828"/>
<text x="46.60" y="255.03" font-family='"Liberation Serif", serif' font-size="3.7" font-weight="bold" text-anchor="middle" fill="#000" stroke="#000" stroke-width="0.2">RN4220 pmf</text>
<line x1="61.30" y1="250.00" x2="72.30" y2="250.00" stroke="#7020d0" stroke-width="0.6" stroke-opacity="0.75"/>
<path d="M66.80,248.40L68.40,250.00L66.80,251.60L65.20,250.00Z" fill="#7020d0"/>
<text x="66.80" y="255.03" font-family='"Liberation Serif", serif' font-size="3.7" font-weight="bold" text-anchor="middle" fill="#000" stroke="#000" stroke-width="0.2">Sa006-1</text>
<line x1="80.50" y1="250.00" x2="91.50" y2="250.00" stroke="#505050" stroke-width="0.6" stroke-opacity="0.75"/>
<circle cx="86.00" cy="250.00" r="1.36" fill="none" stroke="#505050" stroke-width="0.7"/>
<text x="86.00" y="255.03" font-family='"Liberation Serif", serif' font-size="3.7" font-weight="bold" text-anchor="middle" fill="#000" stroke="#000" stroke-width="0.2">Sa008-1</text>
<line x1="100.70" y1="250.00" x2="111.70" y2="250.00" stroke="#f05070" stroke-width="0.6" stroke-opacity="0.75"/>
<path d="M104.60,248.40L107.80,251.60M107.80,248.40L104.60,251.60" stroke="#f05070" stroke-width="0.7"/>
<text x="106.20" y="255.03" font-family='"Liberation Serif", serif' font-size="3.7" font-weight="bold" text-anchor="middle" fill="#000" stroke="#000" stroke-width="0.2">Sa010-12</text>
<rect x="29.3" y="267.8" width="101.2" height="71.5" fill="none" stroke="#9a9a9a" stroke-width="0.9"/>
<line x1="29.3" y1="267.8" x2="29.3" y2="339.3" stroke="#959595" stroke-width="1.2"/>
<line x1="29.3" y1="339.3" x2="130.5" y2="339.3" stroke="#959595" stroke-width="1.3"/>
<line x1="27.8" y1="339.30" x2="29.3" y2="339.30" stroke="#6a6a6a" stroke-width="0.7"/>
<text transform="translate(26.30,341.06) scale(1,1.2)" font-family='"Liberation Serif", serif' font-size="5.2" font-weight="bold" text-anchor="end" stroke="#000" stroke-width="0.12">0</text>
<line x1="27.8" y1="303.55" x2="29.3" y2="303.55" stroke="#6a6a6a" stroke-width="0.7"/>
<text transform="translate(26.30,305.31) scale(1,1.2)" font-family='"Liberation Serif", serif' font-size="5.2" font-weight="bold" text-anchor="end" stroke="#000" stroke-width="0.12">0.5</text>
<line x1="27.8" y1="267.80" x2="29.3" y2="267.80" stroke="#6a6a6a" stroke-width="0.7"/>
<text transform="translate(26.30,269.56) scale(1,1.2)" font-family='"Liberation Serif", serif' font-size="5.2" font-weight="bold" text-anchor="end" stroke="#000" stroke-width="0.12">1</text>
<line x1="29.30" y1="339.3" x2="29.30" y2="340.8" stroke="#6a6a6a" stroke-width="0.6"/>
<line x1="41.95" y1="339.3" x2="41.95" y2="340.8" stroke="#6a6a6a" stroke-width="0.6"/>
<line x1="54.60" y1="339.3" x2="54.60" y2="340.8" stroke="#6a6a6a" stroke-width="0.6"/>
<line x1="67.25" y1="339.3" x2="67.25" y2="340.8" stroke="#6a6a6a" stroke-width="0.6"/>
<line x1="79.90" y1="339.3" x2="79.90" y2="340.8" stroke="#6a6a6a" stroke-width="0.6"/>
<line x1="92.55" y1="339.3" x2="92.55" y2="340.8" stroke="#6a6a6a" stroke-width="0.6"/>
<line x1="105.20" y1="339.3" x2="105.20" y2="340.8" stroke="#6a6a6a" stroke-width="0.6"/>
<line x1="117.85" y1="339.3" x2="117.85" y2="340.8" stroke="#6a6a6a" stroke-width="0.6"/>
<line x1="130.50" y1="339.3" x2="130.50" y2="340.8" stroke="#6a6a6a" stroke-width="0.6"/>
<text transform="translate(36.33,346.68) scale(1,1.0)" font-family='"Liberation Serif", serif' font-size="6.3" font-weight="bold" text-anchor="middle" stroke="#000" stroke-width="0.2">0</text>
<text transform="translate(48.98,346.68) scale(1,1.0)" font-family='"Liberation Serif", serif' font-size="6.3" font-weight="bold" text-anchor="middle" stroke="#000" stroke-width="0.2">2</text>
<text transform="translate(61.62,346.68) scale(1,1.0)" font-family='"Liberation Serif", serif' font-size="6.3" font-weight="bold" text-anchor="middle" stroke="#000" stroke-width="0.2">4</text>
<text transform="translate(74.28,346.68) scale(1,1.0)" font-family='"Liberation Serif", serif' font-size="6.3" font-weight="bold" text-anchor="middle" stroke="#000" stroke-width="0.2">6</text>
<text transform="translate(86.92,346.68) scale(1,1.0)" font-family='"Liberation Serif", serif' font-size="6.3" font-weight="bold" text-anchor="middle" stroke="#000" stroke-width="0.2">8</text>
<text transform="translate(99.58,346.68) scale(1,1.0)" font-family='"Liberation Serif", serif' font-size="6.3" font-weight="bold" text-anchor="middle" stroke="#000" stroke-width="0.2">10</text>
<text transform="translate(112.23,346.68) scale(1,1.0)" font-family='"Liberation Serif", serif' font-size="6.3" font-weight="bold" text-anchor="middle" stroke="#000" stroke-width="0.2">12</text>
<text transform="translate(124.88,346.68) scale(1,1.0)" font-family='"Liberation Serif", serif' font-size="6.3" font-weight="bold" text-anchor="middle" stroke="#000" stroke-width="0.2">24</text>
<polyline points="35.62,334.70 48.27,332.30 60.92,332.30 73.58,329.40 86.22,326.40 98.88,322.10 111.53,316.40 124.17,310.40" fill="none" stroke="#b8a070" stroke-width="1.1"/>
<path d="M35.62,333.00L37.33,336.06L33.92,336.06Z" fill="#a89060"/>
<path d="M48.27,330.60L49.98,333.66L46.57,333.66Z" fill="#a89060"/>
<path d="M60.92,330.60L62.62,333.66L59.22,333.66Z" fill="#a89060"/>
<path d="M73.58,327.70L75.28,330.76L71.88,330.76Z" fill="#a89060"/>
<path d="M86.22,324.70L87.92,327.76L84.52,327.76Z" fill="#a89060"/>
<path d="M98.88,320.40L100.58,323.46L97.17,323.46Z" fill="#a89060"/>
<path d="M111.53,314.70L113.23,317.76L109.83,317.76Z" fill="#a89060"/>
<path d="M124.17,308.70L125.88,311.76L122.47,311.76Z" fill="#a89060"/>
<polyline points="35.62,334.70 48.27,332.30 60.92,325.70 73.58,321.70 86.22,317.90 98.88,315.00 111.53,310.70 124.17,303.30" fill="none" stroke="#5868e8" stroke-width="1.1"/>
<path d="M35.62,333.00L37.33,336.06L33.92,336.06Z" fill="none" stroke="#4050e0" stroke-width="0.6"/>
<path d="M48.27,330.60L49.98,333.66L46.57,333.66Z" fill="none" stroke="#4050e0" stroke-width="0.6"/>
<path d="M60.92,324.00L62.62,327.06L59.22,327.06Z" fill="none" stroke="#4050e0" stroke-width="0.6"/>
<path d="M73.58,320.00L75.28,323.06L71.88,323.06Z" fill="none" stroke="#4050e0" stroke-width="0.6"/>
<path d="M86.22,316.20L87.92,319.26L84.52,319.26Z" fill="none" stroke="#4050e0" stroke-width="0.6"/>
<path d="M98.88,313.30L100.58,316.36L97.17,316.36Z" fill="none" stroke="#4050e0" stroke-width="0.6"/>
<path d="M111.53,309.00L113.23,312.06L109.83,312.06Z" fill="none" stroke="#4050e0" stroke-width="0.6"/>
<path d="M124.17,301.60L125.88,304.66L122.47,304.66Z" fill="none" stroke="#4050e0" stroke-width="0.6"/>
<polyline points="35.62,334.70 48.27,332.30 60.92,322.40 73.58,317.10 86.22,312.90 98.88,306.40 111.53,303.90 124.17,297.90" fill="none" stroke="#5a6a58" stroke-width="1.1"/>
<circle cx="35.62" cy="334.70" r="1.44" fill="none" stroke="#5a6a58" stroke-width="0.7"/>
<circle cx="48.27" cy="332.30" r="1.44" fill="none" stroke="#5a6a58" stroke-width="0.7"/>
<circle cx="60.92" cy="322.40" r="1.44" fill="none" stroke="#5a6a58" stroke-width="0.7"/>
<circle cx="73.58" cy="317.10" r="1.44" fill="none" stroke="#5a6a58" stroke-width="0.7"/>
<circle cx="86.22" cy="312.90" r="1.44" fill="none" stroke="#5a6a58" stroke-width="0.7"/>
<circle cx="98.88" cy="306.40" r="1.44" fill="none" stroke="#5a6a58" stroke-width="0.7"/>
<circle cx="111.53" cy="303.90" r="1.44" fill="none" stroke="#5a6a58" stroke-width="0.7"/>
<circle cx="124.17" cy="297.90" r="1.44" fill="none" stroke="#5a6a58" stroke-width="0.7"/>
<polyline points="35.62,334.70 48.27,332.30 60.92,320.20 73.58,315.10 86.22,307.90 98.88,302.90 111.53,298.60 124.17,288.60" fill="none" stroke="#d8cc68" stroke-width="1.1"/>
<circle cx="35.62" cy="334.70" r="1.44" fill="none" stroke="#c8b858" stroke-width="0.7"/>
<circle cx="48.27" cy="332.30" r="1.44" fill="none" stroke="#c8b858" stroke-width="0.7"/>
<circle cx="60.92" cy="320.20" r="1.44" fill="none" stroke="#c8b858" stroke-width="0.7"/>
<circle cx="73.58" cy="315.10" r="1.44" fill="none" stroke="#c8b858" stroke-width="0.7"/>
<circle cx="86.22" cy="307.90" r="1.44" fill="none" stroke="#c8b858" stroke-width="0.7"/>
<circle cx="98.88" cy="302.90" r="1.44" fill="none" stroke="#c8b858" stroke-width="0.7"/>
<circle cx="111.53" cy="298.60" r="1.44" fill="none" stroke="#c8b858" stroke-width="0.7"/>
<circle cx="124.17" cy="288.60" r="1.44" fill="none" stroke="#c8b858" stroke-width="0.7"/>
<polyline points="35.62,334.70 48.27,332.30 60.92,312.20 73.58,304.80 86.22,299.30 98.88,293.60 111.53,289.30 124.17,277.60" fill="none" stroke="#504070" stroke-width="1.1"/>
<circle cx="35.62" cy="334.70" r="1.70" fill="#b01838"/>
<circle cx="48.27" cy="332.30" r="1.70" fill="#b01838"/>
<circle cx="60.92" cy="312.20" r="1.70" fill="#b01838"/>
<circle cx="73.58" cy="304.80" r="1.70" fill="#b01838"/>
<circle cx="86.22" cy="299.30" r="1.70" fill="#b01838"/>
<circle cx="98.88" cy="293.60" r="1.70" fill="#b01838"/>
<circle cx="111.53" cy="289.30" r="1.70" fill="#b01838"/>
<circle cx="124.17" cy="277.60" r="1.70" fill="#b01838"/>
<polyline points="35.62,334.70 48.27,332.30 60.92,313.50 73.58,305.80 86.22,300.70 98.88,295.40 111.53,290.40 124.17,281.90" fill="none" stroke="#3030c0" stroke-width="1.1"/>
<rect x="33.92" y="333.00" width="3.40" height="3.40" fill="#2020c8"/>
<rect x="46.57" y="330.60" width="3.40" height="3.40" fill="#2020c8"/>
<rect x="59.22" y="311.80" width="3.40" height="3.40" fill="#2020c8"/>
<rect x="71.88" y="304.10" width="3.40" height="3.40" fill="#2020c8"/>
<rect x="84.52" y="299.00" width="3.40" height="3.40" fill="#2020c8"/>
<rect x="97.17" y="293.70" width="3.40" height="3.40" fill="#2020c8"/>
<rect x="109.83" y="288.70" width="3.40" height="3.40" fill="#2020c8"/>
<rect x="122.47" y="280.20" width="3.40" height="3.40" fill="#2020c8"/>
<polyline points="35.62,334.70 48.27,332.30 60.92,312.20 73.58,304.80 86.22,299.30 98.88,293.60 111.53,289.30 124.17,279.60" fill="none" stroke="#504070" stroke-width="1.1"/>
<path d="M35.62,333.00L37.33,334.70L35.62,336.40L33.92,334.70Z" fill="#4a3a80"/>
<path d="M48.27,330.60L49.98,332.30L48.27,334.00L46.57,332.30Z" fill="#4a3a80"/>
<path d="M60.92,310.50L62.62,312.20L60.92,313.90L59.22,312.20Z" fill="#4a3a80"/>
<path d="M73.58,303.10L75.28,304.80L73.58,306.50L71.88,304.80Z" fill="#4a3a80"/>
<path d="M86.22,297.60L87.92,299.30L86.22,301.00L84.52,299.30Z" fill="#4a3a80"/>
<path d="M98.88,291.90L100.58,293.60L98.88,295.30L97.17,293.60Z" fill="#4a3a80"/>
<path d="M111.53,287.60L113.23,289.30L111.53,291.00L109.83,289.30Z" fill="#4a3a80"/>
<path d="M124.17,277.90L125.88,279.60L124.17,281.30L122.47,279.60Z" fill="#4a3a80"/>
<path d="M60.92,309.50V312.20M59.72,309.50H62.12" stroke="#606060" stroke-width="0.6" fill="none"/>
<text x="60.92" y="338.62" font-family='"Liberation Serif", serif' font-size="4.4" font-weight="bold" text-anchor="middle" fill="#151515" stroke="#151515" stroke-width="0.06">**</text>
<text x="60.92" y="318.92" font-family='"Liberation Serif", serif' font-size="4.4" font-weight="bold" text-anchor="middle" fill="#151515" stroke="#151515" stroke-width="0.06">*</text>
<text x="73.58" y="312.42" font-family='"Liberation Serif", serif' font-size="4.4" font-weight="bold" text-anchor="middle" fill="#151515" stroke="#151515" stroke-width="0.06">**</text>
<text x="73.58" y="327.92" font-family='"Liberation Serif", serif' font-size="4.4" font-weight="bold" text-anchor="middle" fill="#151515" stroke="#151515" stroke-width="0.06">**</text>
<text x="73.58" y="335.92" font-family='"Liberation Serif", serif' font-size="4.4" font-weight="bold" text-anchor="middle" fill="#151515" stroke="#151515" stroke-width="0.06">**</text>
<text x="86.22" y="307.42" font-family='"Liberation Serif", serif' font-size="4.4" font-weight="bold" text-anchor="middle" fill="#151515" stroke="#151515" stroke-width="0.06">**</text>
<text x="86.22" y="313.42" font-family='"Liberation Serif", serif' font-size="4.4" font-weight="bold" text-anchor="middle" fill="#151515" stroke="#151515" stroke-width="0.06">**</text>
<text x="86.22" y="324.92" font-family='"Liberation Serif", serif' font-size="4.4" font-weight="bold" text-anchor="middle" fill="#151515" stroke="#151515" stroke-width="0.06">**</text>
<text x="86.22" y="333.02" font-family='"Liberation Serif", serif' font-size="4.4" font-weight="bold" text-anchor="middle" fill="#151515" stroke="#151515" stroke-width="0.06">**</text>
<text x="98.88" y="301.72" font-family='"Liberation Serif", serif' font-size="4.4" font-weight="bold" text-anchor="middle" fill="#151515" stroke="#151515" stroke-width="0.06">**</text>
<text x="98.88" y="313.42" font-family='"Liberation Serif", serif' font-size="4.4" font-weight="bold" text-anchor="middle" fill="#151515" stroke="#151515" stroke-width="0.06">**</text>
<text x="98.88" y="328.72" font-family='"Liberation Serif", serif' font-size="4.4" font-weight="bold" text-anchor="middle" fill="#151515" stroke="#151515" stroke-width="0.06">**</text>
<text x="111.53" y="297.02" font-family='"Liberation Serif", serif' font-size="4.4" font-weight="bold" text-anchor="middle" fill="#151515" stroke="#151515" stroke-width="0.06">**</text>
<text x="111.53" y="310.62" font-family='"Liberation Serif", serif' font-size="4.4" font-weight="bold" text-anchor="middle" fill="#151515" stroke="#151515" stroke-width="0.06">**</text>
<text x="111.53" y="322.72" font-family='"Liberation Serif", serif' font-size="4.4" font-weight="bold" text-anchor="middle" fill="#151515" stroke="#151515" stroke-width="0.06">**</text>
<text x="124.17" y="288.12" font-family='"Liberation Serif", serif' font-size="4.4" font-weight="bold" text-anchor="middle" fill="#151515" stroke="#151515" stroke-width="0.06">**</text>
<text x="124.17" y="297.02" font-family='"Liberation Serif", serif' font-size="4.4" font-weight="bold" text-anchor="middle" fill="#151515" stroke="#151515" stroke-width="0.06">**</text>
<text x="124.17" y="317.02" font-family='"Liberation Serif", serif' font-size="4.4" font-weight="bold" text-anchor="middle" fill="#151515" stroke="#151515" stroke-width="0.06">**</text>
<text transform="translate(10.3,304.6) rotate(-90)" font-family='"Liberation Serif", serif' font-size="9.3" font-weight="bold" text-anchor="middle" stroke="#000" stroke-width="0.15">OD<tspan font-size="6.32" dy="2.05">600</tspan></text>
<text x="87.00" y="357.20" font-family='"Liberation Serif", serif' font-size="9.45" font-weight="bold" text-anchor="middle" fill="#000" stroke="#000" stroke-width="0.15">Time (h)</text>
<text x="69.30" y="374.70" font-family='"Liberation Serif", serif' font-size="8.2" font-weight="normal" text-anchor="middle" fill="#000" stroke="#000" stroke-width="0.25">(C)</text>
<text x="328.50" y="206.90" font-family='"Liberation Serif", serif' font-size="9.6" font-weight="bold" text-anchor="middle" fill="#000" stroke="#000" stroke-width="0.15">DSM 0.01X Broth</text>
<rect x="281.4" y="225.1" width="91.10000000000002" height="30.599999999999994" fill="none" stroke="#6a6a6a" stroke-width="0.7"/>
<line x1="287.50" y1="232.30" x2="298.50" y2="232.30" stroke="#1a1ad8" stroke-width="0.6" stroke-opacity="0.75"/>
<circle cx="293.00" cy="232.30" r="1.70" fill="#1a1ad8"/>
<text x="293.00" y="239.91" font-family='"Liberation Serif", serif' font-size="3.35" font-weight="bold" text-anchor="middle" fill="#000" stroke="#000" stroke-width="0.2">RN4220</text>
<line x1="309.50" y1="232.30" x2="320.50" y2="232.30" stroke="#2a8a2a" stroke-width="0.6" stroke-opacity="0.75"/>
<path d="M315.00,230.60L316.70,233.66L313.30,233.66Z" fill="#2a8a2a"/>
<text x="315.00" y="239.91" font-family='"Liberation Serif", serif' font-size="3.35" font-weight="bold" text-anchor="middle" fill="#000" stroke="#000" stroke-width="0.2">Sa004-2</text>
<line x1="332.10" y1="232.30" x2="343.10" y2="232.30" stroke="#f0a868" stroke-width="0.6" stroke-opacity="0.75"/>
<circle cx="337.60" cy="232.30" r="1.44" fill="none" stroke="#f0a868" stroke-width="0.7"/>
<text x="337.60" y="239.91" font-family='"Liberation Serif", serif' font-size="3.35" font-weight="bold" text-anchor="middle" fill="#000" stroke="#000" stroke-width="0.2">Sa007-1</text>
<line x1="354.90" y1="232.30" x2="365.90" y2="232.30" stroke="#6a6af0" stroke-width="0.6" stroke-opacity="0.75"/>
<path d="M360.40,230.60L362.10,233.66L358.70,233.66Z" fill="none" stroke="#6a6af0" stroke-width="0.6"/>
<text x="360.40" y="239.91" font-family='"Liberation Serif", serif' font-size="3.35" font-weight="bold" text-anchor="middle" fill="#000" stroke="#000" stroke-width="0.2">Sa014-1</text>
<line x1="287.50" y1="247.70" x2="298.50" y2="247.70" stroke="#e01828" stroke-width="0.6" stroke-opacity="0.75"/>
<circle cx="293.00" cy="247.70" r="1.70" fill="#e01828"/>
<text x="293.00" y="253.51" font-family='"Liberation Serif", serif' font-size="3.35" font-weight="bold" text-anchor="middle" fill="#000" stroke="#000" stroke-width="0.2">RN4220 pmf</text>
<line x1="309.50" y1="247.70" x2="320.50" y2="247.70" stroke="#7020d0" stroke-width="0.6" stroke-opacity="0.75"/>
<path d="M315.00,246.00L316.70,247.70L315.00,249.40L313.30,247.70Z" fill="#7020d0"/>
<text x="315.00" y="253.51" font-family='"Liberation Serif", serif' font-size="3.35" font-weight="bold" text-anchor="middle" fill="#000" stroke="#000" stroke-width="0.2">Sa006-1</text>
<line x1="332.10" y1="247.70" x2="343.10" y2="247.70" stroke="#505050" stroke-width="0.6" stroke-opacity="0.75"/>
<circle cx="337.60" cy="247.70" r="1.44" fill="none" stroke="#505050" stroke-width="0.7"/>
<text x="337.60" y="253.51" font-family='"Liberation Serif", serif' font-size="3.35" font-weight="bold" text-anchor="middle" fill="#000" stroke="#000" stroke-width="0.2">Sa008-1</text>
<line x1="354.90" y1="247.70" x2="365.90" y2="247.70" stroke="#f05070" stroke-width="0.6" stroke-opacity="0.75"/>
<path d="M358.70,246.00L362.10,249.40M362.10,246.00L358.70,249.40" stroke="#f05070" stroke-width="0.7"/>
<text x="360.40" y="253.51" font-family='"Liberation Serif", serif' font-size="3.35" font-weight="bold" text-anchor="middle" fill="#000" stroke="#000" stroke-width="0.2">Sa010-12</text>
<rect x="281.9" y="273.3" width="88.40000000000003" height="64.80000000000001" fill="none" stroke="#9a9a9a" stroke-width="0.9"/>
<line x1="281.9" y1="273.3" x2="281.9" y2="338.1" stroke="#959595" stroke-width="1.2"/>
<line x1="281.9" y1="338.1" x2="370.3" y2="338.1" stroke="#959595" stroke-width="1.3"/>
<line x1="280.4" y1="338.10" x2="281.9" y2="338.10" stroke="#6a6a6a" stroke-width="0.7"/>
<text transform="translate(278.30,340.26) scale(1,1.2)" font-family='"Liberation Serif", serif' font-size="6.2" font-weight="bold" text-anchor="end" stroke="#000" stroke-width="0.12">0</text>
<line x1="280.4" y1="305.70" x2="281.9" y2="305.70" stroke="#6a6a6a" stroke-width="0.7"/>
<text transform="translate(278.30,307.86) scale(1,1.2)" font-family='"Liberation Serif", serif' font-size="6.2" font-weight="bold" text-anchor="end" stroke="#000" stroke-width="0.12">0.5</text>
<line x1="280.4" y1="273.30" x2="281.9" y2="273.30" stroke="#6a6a6a" stroke-width="0.7"/>
<text transform="translate(278.30,275.46) scale(1,1.2)" font-family='"Liberation Serif", serif' font-size="6.2" font-weight="bold" text-anchor="end" stroke="#000" stroke-width="0.12">1</text>
<line x1="281.90" y1="338.1" x2="281.90" y2="339.6" stroke="#6a6a6a" stroke-width="0.6"/>
<line x1="292.95" y1="338.1" x2="292.95" y2="339.6" stroke="#6a6a6a" stroke-width="0.6"/>
<line x1="304.00" y1="338.1" x2="304.00" y2="339.6" stroke="#6a6a6a" stroke-width="0.6"/>
<line x1="315.05" y1="338.1" x2="315.05" y2="339.6" stroke="#6a6a6a" stroke-width="0.6"/>
<line x1="326.10" y1="338.1" x2="326.10" y2="339.6" stroke="#6a6a6a" stroke-width="0.6"/>
<line x1="337.15" y1="338.1" x2="337.15" y2="339.6" stroke="#6a6a6a" stroke-width="0.6"/>
<line x1="348.20" y1="338.1" x2="348.20" y2="339.6" stroke="#6a6a6a" stroke-width="0.6"/>
<line x1="359.25" y1="338.1" x2="359.25" y2="339.6" stroke="#6a6a6a" stroke-width="0.6"/>
<line x1="370.30" y1="338.1" x2="370.30" y2="339.6" stroke="#6a6a6a" stroke-width="0.6"/>
<text transform="translate(287.62,347.80) scale(1,1.1)" font-family='"Liberation Serif", serif' font-size="6.6" font-weight="bold" text-anchor="middle" stroke="#000" stroke-width="0.2">0</text>
<text transform="translate(298.67,347.80) scale(1,1.1)" font-family='"Liberation Serif", serif' font-size="6.6" font-weight="bold" text-anchor="middle" stroke="#000" stroke-width="0.2">2</text>
<text transform="translate(309.72,347.80) scale(1,1.1)" font-family='"Liberation Serif", serif' font-size="6.6" font-weight="bold" text-anchor="middle" stroke="#000" stroke-width="0.2">4</text>
<text transform="translate(320.77,347.80) scale(1,1.1)" font-family='"Liberation Serif", serif' font-size="6.6" font-weight="bold" text-anchor="middle" stroke="#000" stroke-width="0.2">6</text>
<text transform="translate(331.82,347.80) scale(1,1.1)" font-family='"Liberation Serif", serif' font-size="6.6" font-weight="bold" text-anchor="middle" stroke="#000" stroke-width="0.2">8</text>
<text transform="translate(342.87,347.80) scale(1,1.1)" font-family='"Liberation Serif", serif' font-size="6.6" font-weight="bold" text-anchor="middle" stroke="#000" stroke-width="0.2">10</text>
<text transform="translate(353.92,347.80) scale(1,1.1)" font-family='"Liberation Serif", serif' font-size="6.6" font-weight="bold" text-anchor="middle" stroke="#000" stroke-width="0.2">12</text>
<text transform="translate(364.97,347.80) scale(1,1.1)" font-family='"Liberation Serif", serif' font-size="6.6" font-weight="bold" text-anchor="middle" stroke="#000" stroke-width="0.2">24</text>
<polyline points="287.42,335.00 298.47,333.80 309.52,332.60 320.57,330.10 331.62,329.80 342.67,327.90 353.72,325.30 364.77,320.30" fill="none" stroke="#c88858" stroke-width="1.1"/>
<path d="M287.42,333.30L289.12,336.36L285.72,336.36Z" fill="#b07850"/>
<path d="M298.47,332.10L300.17,335.16L296.77,335.16Z" fill="#b07850"/>
<path d="M309.52,330.90L311.22,333.96L307.82,333.96Z" fill="#b07850"/>
<path d="M320.57,328.40L322.27,331.46L318.88,331.46Z" fill="#b07850"/>
<path d="M331.62,328.10L333.32,331.16L329.93,331.16Z" fill="#b07850"/>
<path d="M342.67,326.20L344.37,329.26L340.97,329.26Z" fill="#b07850"/>
<path d="M353.72,323.60L355.42,326.66L352.02,326.66Z" fill="#b07850"/>
<path d="M364.77,318.60L366.47,321.66L363.07,321.66Z" fill="#b07850"/>
<polyline points="287.42,335.00 298.47,333.80 309.52,330.50 320.57,325.20 331.62,321.50 342.67,317.10 353.72,312.90 364.77,307.60" fill="none" stroke="#4858e0" stroke-width="1.1"/>
<path d="M287.42,333.30L289.12,336.36L285.72,336.36Z" fill="none" stroke="#4050e0" stroke-width="0.6"/>
<path d="M298.47,332.10L300.17,335.16L296.77,335.16Z" fill="none" stroke="#4050e0" stroke-width="0.6"/>
<path d="M309.52,328.80L311.22,331.86L307.82,331.86Z" fill="none" stroke="#4050e0" stroke-width="0.6"/>
<path d="M320.57,323.50L322.27,326.56L318.88,326.56Z" fill="none" stroke="#4050e0" stroke-width="0.6"/>
<path d="M331.62,319.80L333.32,322.86L329.93,322.86Z" fill="none" stroke="#4050e0" stroke-width="0.6"/>
<path d="M342.67,315.40L344.37,318.46L340.97,318.46Z" fill="none" stroke="#4050e0" stroke-width="0.6"/>
<path d="M353.72,311.20L355.42,314.26L352.02,314.26Z" fill="none" stroke="#4050e0" stroke-width="0.6"/>
<path d="M364.77,305.90L366.47,308.96L363.07,308.96Z" fill="none" stroke="#4050e0" stroke-width="0.6"/>
<polyline points="287.42,335.00 298.47,333.80 309.52,329.50 320.57,324.00 331.62,319.00 342.67,312.60 353.72,307.60 364.77,304.40" fill="none" stroke="#405848" stroke-width="1.1"/>
<circle cx="287.42" cy="335.00" r="1.44" fill="none" stroke="#405848" stroke-width="0.7"/>
<circle cx="298.47" cy="333.80" r="1.44" fill="none" stroke="#405848" stroke-width="0.7"/>
<circle cx="309.52" cy="329.50" r="1.44" fill="none" stroke="#405848" stroke-width="0.7"/>
<circle cx="320.57" cy="324.00" r="1.44" fill="none" stroke="#405848" stroke-width="0.7"/>
<circle cx="331.62" cy="319.00" r="1.44" fill="none" stroke="#405848" stroke-width="0.7"/>
<circle cx="342.67" cy="312.60" r="1.44" fill="none" stroke="#405848" stroke-width="0.7"/>
<circle cx="353.72" cy="307.60" r="1.44" fill="none" stroke="#405848" stroke-width="0.7"/>
<circle cx="364.77" cy="304.40" r="1.44" fill="none" stroke="#405848" stroke-width="0.7"/>
<polyline points="287.42,335.00 298.47,333.80 309.52,327.00 320.57,319.60 331.62,311.40 342.67,304.40 353.72,299.30 364.77,290.40" fill="none" stroke="#e0c860" stroke-width="1.1"/>
<circle cx="287.42" cy="335.00" r="1.44" fill="none" stroke="#d8b850" stroke-width="0.7"/>
<circle cx="298.47" cy="333.80" r="1.44" fill="none" stroke="#d8b850" stroke-width="0.7"/>
<circle cx="309.52" cy="327.00" r="1.44" fill="none" stroke="#d8b850" stroke-width="0.7"/>
<circle cx="320.57" cy="319.60" r="1.44" fill="none" stroke="#d8b850" stroke-width="0.7"/>
<circle cx="331.62" cy="311.40" r="1.44" fill="none" stroke="#d8b850" stroke-width="0.7"/>
<circle cx="342.67" cy="304.40" r="1.44" fill="none" stroke="#d8b850" stroke-width="0.7"/>
<circle cx="353.72" cy="299.30" r="1.44" fill="none" stroke="#d8b850" stroke-width="0.7"/>
<circle cx="364.77" cy="290.40" r="1.44" fill="none" stroke="#d8b850" stroke-width="0.7"/>
<polyline points="287.42,335.00 298.47,333.80 309.52,321.00 320.57,314.00 331.62,306.00 342.67,300.60 353.72,298.00 364.77,288.00" fill="none" stroke="#7040c0" stroke-width="1.1"/>
<path d="M287.42,333.30L289.12,335.00L287.42,336.70L285.72,335.00Z" fill="#6030c0"/>
<path d="M298.47,332.10L300.17,333.80L298.47,335.50L296.77,333.80Z" fill="#6030c0"/>
<path d="M309.52,319.30L311.22,321.00L309.52,322.70L307.82,321.00Z" fill="#6030c0"/>
<path d="M320.57,312.30L322.27,314.00L320.57,315.70L318.88,314.00Z" fill="#6030c0"/>
<path d="M331.62,304.30L333.32,306.00L331.62,307.70L329.93,306.00Z" fill="#6030c0"/>
<path d="M342.67,298.90L344.37,300.60L342.67,302.30L340.97,300.60Z" fill="#6030c0"/>
<path d="M353.72,296.30L355.42,298.00L353.72,299.70L352.02,298.00Z" fill="#6030c0"/>
<path d="M364.77,286.30L366.47,288.00L364.77,289.70L363.07,288.00Z" fill="#6030c0"/>
<polyline points="287.42,335.00 298.47,333.80 309.52,320.50 320.57,313.50 331.62,305.70 342.67,300.60 353.72,298.00 364.77,287.90" fill="none" stroke="#604058" stroke-width="1.1"/>
<circle cx="287.42" cy="335.00" r="1.70" fill="#603848"/>
<circle cx="298.47" cy="333.80" r="1.70" fill="#603848"/>
<circle cx="309.52" cy="320.50" r="1.70" fill="#603848"/>
<circle cx="320.57" cy="313.50" r="1.70" fill="#603848"/>
<circle cx="331.62" cy="305.70" r="1.70" fill="#603848"/>
<circle cx="342.67" cy="300.60" r="1.70" fill="#603848"/>
<circle cx="353.72" cy="298.00" r="1.70" fill="#603848"/>
<circle cx="364.77" cy="287.90" r="1.70" fill="#603848"/>
<polyline points="287.42,335.00 298.47,333.80 309.52,320.20 320.57,312.80 331.62,304.40 342.67,298.70 353.72,294.90 364.77,285.70" fill="none" stroke="#2424d0" stroke-width="1.1"/>
<rect x="285.72" y="333.30" width="3.40" height="3.40" fill="#1818d0"/>
<rect x="296.77" y="332.10" width="3.40" height="3.40" fill="#1818d0"/>
<rect x="307.82" y="318.50" width="3.40" height="3.40" fill="#1818d0"/>
<rect x="318.88" y="311.10" width="3.40" height="3.40" fill="#1818d0"/>
<rect x="329.93" y="302.70" width="3.40" height="3.40" fill="#1818d0"/>
<rect x="340.97" y="297.00" width="3.40" height="3.40" fill="#1818d0"/>
<rect x="352.02" y="293.20" width="3.40" height="3.40" fill="#1818d0"/>
<rect x="363.07" y="284.00" width="3.40" height="3.40" fill="#1818d0"/>
<text x="309.52" y="337.93" font-family='"Liberation Serif", serif' font-size="4.2" font-weight="bold" text-anchor="middle" fill="#151515" stroke="#151515" stroke-width="0.06">**</text>
<text x="320.57" y="337.93" font-family='"Liberation Serif", serif' font-size="4.2" font-weight="bold" text-anchor="middle" fill="#151515" stroke="#151515" stroke-width="0.06">**</text>
<text x="331.62" y="317.73" font-family='"Liberation Serif", serif' font-size="4.2" font-weight="bold" text-anchor="middle" fill="#151515" stroke="#151515" stroke-width="0.06">*</text>
<text x="331.62" y="329.13" font-family='"Liberation Serif", serif' font-size="4.2" font-weight="bold" text-anchor="middle" fill="#151515" stroke="#151515" stroke-width="0.06">**</text>
<text x="331.62" y="336.13" font-family='"Liberation Serif", serif' font-size="4.2" font-weight="bold" text-anchor="middle" fill="#151515" stroke="#151515" stroke-width="0.06">**</text>
<text x="342.67" y="311.43" font-family='"Liberation Serif", serif' font-size="4.2" font-weight="bold" text-anchor="middle" fill="#151515" stroke="#151515" stroke-width="0.06">*</text>
<text x="342.67" y="324.73" font-family='"Liberation Serif", serif' font-size="4.2" font-weight="bold" text-anchor="middle" fill="#151515" stroke="#151515" stroke-width="0.06">**</text>
<text x="342.67" y="333.63" font-family='"Liberation Serif", serif' font-size="4.2" font-weight="bold" text-anchor="middle" fill="#151515" stroke="#151515" stroke-width="0.06">**</text>
<text x="353.72" y="306.93" font-family='"Liberation Serif", serif' font-size="4.2" font-weight="bold" text-anchor="middle" fill="#151515" stroke="#151515" stroke-width="0.06">**</text>
<text x="353.72" y="320.23" font-family='"Liberation Serif", serif' font-size="4.2" font-weight="bold" text-anchor="middle" fill="#151515" stroke="#151515" stroke-width="0.06">**</text>
<text x="353.72" y="332.33" font-family='"Liberation Serif", serif' font-size="4.2" font-weight="bold" text-anchor="middle" fill="#151515" stroke="#151515" stroke-width="0.06">**</text>
<text x="364.77" y="298.73" font-family='"Liberation Serif", serif' font-size="4.2" font-weight="bold" text-anchor="middle" fill="#151515" stroke="#151515" stroke-width="0.06">*</text>
<text x="364.77" y="301.83" font-family='"Liberation Serif", serif' font-size="4.2" font-weight="bold" text-anchor="middle" fill="#151515" stroke="#151515" stroke-width="0.06">**</text>
<text x="364.77" y="313.33" font-family='"Liberation Serif", serif' font-size="4.2" font-weight="bold" text-anchor="middle" fill="#151515" stroke="#151515" stroke-width="0.06">**</text>
<text x="364.77" y="326.03" font-family='"Liberation Serif", serif' font-size="4.2" font-weight="bold" text-anchor="middle" fill="#151515" stroke="#151515" stroke-width="0.06">**</text>
<text transform="translate(263.3,304.9) rotate(-90)" font-family='"Liberation Serif", serif' font-size="9.8" font-weight="bold" text-anchor="middle" stroke="#000" stroke-width="0.15">OD<tspan font-size="6.66" dy="2.16">600</tspan></text>
<text x="331.70" y="358.00" font-family='"Liberation Serif", serif' font-size="9.6" font-weight="bold" text-anchor="middle" fill="#000" stroke="#000" stroke-width="0.15">Time (h)</text>
<text x="317.00" y="375.70" font-family='"Liberation Serif", serif' font-size="8.2" font-weight="normal" text-anchor="middle" fill="#000" stroke="#000" stroke-width="0.25">(D)</text>
<text x="204.90" y="391.80" font-family='"Liberation Serif", serif' font-size="9.7" font-weight="bold" text-anchor="middle" fill="#000" stroke="#000" stroke-width="0.15">DSM 0.001X Broth</text>
<rect x="161.0" y="406.8" width="88.1" height="22.599999999999966" fill="none" stroke="#6a6a6a" stroke-width="0.7"/>
<line x1="166.10" y1="412.30" x2="177.10" y2="412.30" stroke="#1a1ad8" stroke-width="0.6" stroke-opacity="0.75"/>
<circle cx="171.60" cy="412.30" r="1.80" fill="#1a1ad8"/>
<text x="171.60" y="417.94" font-family='"Liberation Serif", serif' font-size="3.45" font-weight="bold" text-anchor="middle" fill="#000" stroke="#000" stroke-width="0.2">RN4220</text>
<line x1="187.50" y1="412.30" x2="198.50" y2="412.30" stroke="#708030" stroke-width="0.6" stroke-opacity="0.75"/>
<path d="M193.00,410.50L194.80,413.74L191.20,413.74Z" fill="#708030"/>
<text x="193.00" y="417.94" font-family='"Liberation Serif", serif' font-size="3.45" font-weight="bold" text-anchor="middle" fill="#000" stroke="#000" stroke-width="0.2">Sa004-2</text>
<line x1="208.00" y1="412.30" x2="219.00" y2="412.30" stroke="#e0d060" stroke-width="0.6" stroke-opacity="0.75"/>
<circle cx="213.50" cy="412.30" r="1.53" fill="none" stroke="#e0d060" stroke-width="0.7"/>
<text x="213.50" y="417.94" font-family='"Liberation Serif", serif' font-size="3.45" font-weight="bold" text-anchor="middle" fill="#000" stroke="#000" stroke-width="0.2">Sa007-1</text>
<line x1="229.50" y1="412.30" x2="240.50" y2="412.30" stroke="#6a6af0" stroke-width="0.6" stroke-opacity="0.75"/>
<path d="M235.00,410.50L236.80,413.74L233.20,413.74Z" fill="none" stroke="#6a6af0" stroke-width="0.6"/>
<text x="235.00" y="417.94" font-family='"Liberation Serif", serif' font-size="3.45" font-weight="bold" text-anchor="middle" fill="#000" stroke="#000" stroke-width="0.2">Sa014-1</text>
<line x1="166.10" y1="423.40" x2="177.10" y2="423.40" stroke="#606020" stroke-width="0.6" stroke-opacity="0.75"/>
<circle cx="171.60" cy="423.40" r="1.80" fill="#606020"/>
<text x="171.60" y="428.24" font-family='"Liberation Serif", serif' font-size="3.45" font-weight="bold" text-anchor="middle" fill="#000" stroke="#000" stroke-width="0.2">RN4220 pmf</text>
<line x1="187.50" y1="423.40" x2="198.50" y2="423.40" stroke="#3030e0" stroke-width="0.6" stroke-opacity="0.75"/>
<path d="M193.00,421.60L194.80,423.40L193.00,425.20L191.20,423.40Z" fill="#3030e0"/>
<text x="193.00" y="428.24" font-family='"Liberation Serif", serif' font-size="3.45" font-weight="bold" text-anchor="middle" fill="#000" stroke="#000" stroke-width="0.2">Sa006-1</text>
<line x1="208.00" y1="423.40" x2="219.00" y2="423.40" stroke="#505050" stroke-width="0.6" stroke-opacity="0.75"/>
<circle cx="213.50" cy="423.40" r="1.53" fill="none" stroke="#505050" stroke-width="0.7"/>
<text x="213.50" y="428.24" font-family='"Liberation Serif", serif' font-size="3.45" font-weight="bold" text-anchor="middle" fill="#000" stroke="#000" stroke-width="0.2">Sa008-1</text>
<line x1="229.50" y1="423.40" x2="240.50" y2="423.40" stroke="#c0b070" stroke-width="0.6" stroke-opacity="0.75"/>
<path d="M233.20,421.60L236.80,425.20M236.80,421.60L233.20,425.20" stroke="#c0b070" stroke-width="0.7"/>
<text x="235.00" y="428.24" font-family='"Liberation Serif", serif' font-size="3.45" font-weight="bold" text-anchor="middle" fill="#000" stroke="#000" stroke-width="0.2">Sa010-12</text>
<rect x="154.8" y="442.3" width="99.5" height="67.30000000000001" fill="none" stroke="#9a9a9a" stroke-width="0.9"/>
<line x1="154.8" y1="442.3" x2="154.8" y2="509.6" stroke="#959595" stroke-width="1.2"/>
<line x1="154.8" y1="509.6" x2="254.3" y2="509.6" stroke="#959595" stroke-width="1.3"/>
<line x1="153.3" y1="509.60" x2="154.8" y2="509.60" stroke="#6a6a6a" stroke-width="0.7"/>
<text transform="translate(151.90,511.52) scale(1,1.2)" font-family='"Liberation Serif", serif' font-size="5.6" font-weight="bold" text-anchor="end" stroke="#000" stroke-width="0.12">0</text>
<line x1="153.3" y1="475.95" x2="154.8" y2="475.95" stroke="#6a6a6a" stroke-width="0.7"/>
<text transform="translate(151.90,477.87) scale(1,1.2)" font-family='"Liberation Serif", serif' font-size="5.6" font-weight="bold" text-anchor="end" stroke="#000" stroke-width="0.12">0.25</text>
<line x1="153.3" y1="442.30" x2="154.8" y2="442.30" stroke="#6a6a6a" stroke-width="0.7"/>
<text transform="translate(151.90,444.22) scale(1,1.2)" font-family='"Liberation Serif", serif' font-size="5.6" font-weight="bold" text-anchor="end" stroke="#000" stroke-width="0.12">0.5</text>
<line x1="154.80" y1="509.6" x2="154.80" y2="511.1" stroke="#6a6a6a" stroke-width="0.6"/>
<line x1="167.24" y1="509.6" x2="167.24" y2="511.1" stroke="#6a6a6a" stroke-width="0.6"/>
<line x1="179.68" y1="509.6" x2="179.68" y2="511.1" stroke="#6a6a6a" stroke-width="0.6"/>
<line x1="192.11" y1="509.6" x2="192.11" y2="511.1" stroke="#6a6a6a" stroke-width="0.6"/>
<line x1="204.55" y1="509.6" x2="204.55" y2="511.1" stroke="#6a6a6a" stroke-width="0.6"/>
<line x1="216.99" y1="509.6" x2="216.99" y2="511.1" stroke="#6a6a6a" stroke-width="0.6"/>
<line x1="229.43" y1="509.6" x2="229.43" y2="511.1" stroke="#6a6a6a" stroke-width="0.6"/>
<line x1="241.86" y1="509.6" x2="241.86" y2="511.1" stroke="#6a6a6a" stroke-width="0.6"/>
<line x1="254.30" y1="509.6" x2="254.30" y2="511.1" stroke="#6a6a6a" stroke-width="0.6"/>
<text transform="translate(161.62,519.51) scale(1,1.0)" font-family='"Liberation Serif", serif' font-size="6.4" font-weight="bold" text-anchor="middle" stroke="#000" stroke-width="0.2">0</text>
<text transform="translate(174.06,519.51) scale(1,1.0)" font-family='"Liberation Serif", serif' font-size="6.4" font-weight="bold" text-anchor="middle" stroke="#000" stroke-width="0.2">2</text>
<text transform="translate(186.49,519.51) scale(1,1.0)" font-family='"Liberation Serif", serif' font-size="6.4" font-weight="bold" text-anchor="middle" stroke="#000" stroke-width="0.2">4</text>
<text transform="translate(198.93,519.51) scale(1,1.0)" font-family='"Liberation Serif", serif' font-size="6.4" font-weight="bold" text-anchor="middle" stroke="#000" stroke-width="0.2">6</text>
<text transform="translate(211.37,519.51) scale(1,1.0)" font-family='"Liberation Serif", serif' font-size="6.4" font-weight="bold" text-anchor="middle" stroke="#000" stroke-width="0.2">8</text>
<text transform="translate(223.81,519.51) scale(1,1.0)" font-family='"Liberation Serif", serif' font-size="6.4" font-weight="bold" text-anchor="middle" stroke="#000" stroke-width="0.2">10</text>
<text transform="translate(236.24,519.51) scale(1,1.0)" font-family='"Liberation Serif", serif' font-size="6.4" font-weight="bold" text-anchor="middle" stroke="#000" stroke-width="0.2">12</text>
<text transform="translate(248.68,519.51) scale(1,1.0)" font-family='"Liberation Serif", serif' font-size="6.4" font-weight="bold" text-anchor="middle" stroke="#000" stroke-width="0.2">24</text>
<rect x="160" y="496" width="94" height="6.5" fill="#fcecf2"/>
<rect x="195" y="488.5" width="59" height="9" fill="#fdf2f6"/>
<polyline points="161.02,500.90 173.46,500.20 185.89,495.70 198.33,490.20 210.77,485.20 223.21,483.00 235.64,472.90 248.08,462.20" fill="none" stroke="#707070" stroke-width="1.1"/>
<circle cx="161.02" cy="500.90" r="1.44" fill="none" stroke="#606060" stroke-width="0.7"/>
<circle cx="173.46" cy="500.20" r="1.44" fill="none" stroke="#606060" stroke-width="0.7"/>
<circle cx="185.89" cy="495.70" r="1.44" fill="none" stroke="#606060" stroke-width="0.7"/>
<circle cx="198.33" cy="490.20" r="1.44" fill="none" stroke="#606060" stroke-width="0.7"/>
<circle cx="210.77" cy="485.20" r="1.44" fill="none" stroke="#606060" stroke-width="0.7"/>
<circle cx="223.21" cy="483.00" r="1.44" fill="none" stroke="#606060" stroke-width="0.7"/>
<circle cx="235.64" cy="472.90" r="1.44" fill="none" stroke="#606060" stroke-width="0.7"/>
<circle cx="248.08" cy="462.20" r="1.44" fill="none" stroke="#606060" stroke-width="0.7"/>
<polyline points="161.02,500.90 173.46,499.80 185.89,494.30 198.33,488.40 210.77,482.20 223.21,475.60 235.64,472.30 248.08,457.80" fill="none" stroke="#2828d0" stroke-width="1.1"/>
<rect x="159.32" y="499.20" width="3.40" height="3.40" fill="#1818d0"/>
<rect x="171.76" y="498.10" width="3.40" height="3.40" fill="#1818d0"/>
<rect x="184.19" y="492.60" width="3.40" height="3.40" fill="#1818d0"/>
<rect x="196.63" y="486.70" width="3.40" height="3.40" fill="#1818d0"/>
<rect x="209.07" y="480.50" width="3.40" height="3.40" fill="#1818d0"/>
<rect x="221.51" y="473.90" width="3.40" height="3.40" fill="#1818d0"/>
<rect x="233.94" y="470.60" width="3.40" height="3.40" fill="#1818d0"/>
<rect x="246.38" y="456.10" width="3.40" height="3.40" fill="#1818d0"/>
<polyline points="161.02,500.90 173.46,500.70 185.89,500.70 198.33,500.70 210.77,500.70 223.21,500.70 235.64,500.70 248.08,500.70" fill="none" stroke="#d89858" stroke-width="1.1"/>
<circle cx="161.02" cy="500.90" r="1.10" fill="#a06848"/>
<circle cx="173.46" cy="500.70" r="1.10" fill="#a06848"/>
<circle cx="185.89" cy="500.70" r="1.10" fill="#a06848"/>
<circle cx="198.33" cy="500.70" r="1.10" fill="#a06848"/>
<circle cx="210.77" cy="500.70" r="1.10" fill="#a06848"/>
<circle cx="223.21" cy="500.70" r="1.10" fill="#a06848"/>
<circle cx="235.64" cy="500.70" r="1.10" fill="#a06848"/>
<circle cx="248.08" cy="500.70" r="1.10" fill="#a06848"/>
<polyline points="161.02,500.90 173.46,500.50 185.89,500.50 198.33,500.00 210.77,499.30 223.21,496.30 235.64,494.50 248.08,485.90" fill="none" stroke="#9050e8" stroke-width="1.1"/>
<path d="M161.02,499.20L162.72,500.90L161.02,502.60L159.32,500.90Z" fill="#7030d0"/>
<path d="M173.46,498.80L175.16,500.50L173.46,502.20L171.76,500.50Z" fill="#7030d0"/>
<path d="M185.89,498.80L187.59,500.50L185.89,502.20L184.19,500.50Z" fill="#7030d0"/>
<path d="M198.33,498.30L200.03,500.00L198.33,501.70L196.63,500.00Z" fill="#7030d0"/>
<path d="M210.77,497.60L212.47,499.30L210.77,501.00L209.07,499.30Z" fill="#7030d0"/>
<path d="M223.21,494.60L224.91,496.30L223.21,498.00L221.51,496.30Z" fill="#7030d0"/>
<path d="M235.64,492.80L237.34,494.50L235.64,496.20L233.94,494.50Z" fill="#7030d0"/>
<path d="M248.08,484.20L249.78,485.90L248.08,487.60L246.38,485.90Z" fill="#7030d0"/>
<polyline points="161.02,500.90 173.46,500.50 185.89,500.50 198.33,499.80 210.77,498.50 223.21,495.10 235.64,491.90 248.08,483.70" fill="none" stroke="#e0a040" stroke-width="1.1"/>
<path d="M161.02,499.20L162.72,502.26L159.32,502.26Z" fill="#604020"/>
<path d="M173.46,498.80L175.16,501.86L171.76,501.86Z" fill="#604020"/>
<path d="M185.89,498.80L187.59,501.86L184.19,501.86Z" fill="#604020"/>
<path d="M198.33,498.10L200.03,501.16L196.63,501.16Z" fill="#604020"/>
<path d="M210.77,496.80L212.47,499.86L209.07,499.86Z" fill="#604020"/>
<path d="M223.21,493.40L224.91,496.46L221.51,496.46Z" fill="#604020"/>
<path d="M235.64,490.20L237.34,493.26L233.94,493.26Z" fill="#604020"/>
<path d="M248.08,482.00L249.78,485.06L246.38,485.06Z" fill="#604020"/>
<path d="M248.08,454.50V457.80M246.88,454.50H249.28" stroke="#4040d0" stroke-width="0.6" fill="none"/>
<path d="M223.21,471.50V475.60M222.01,471.50H224.41" stroke="#4040d0" stroke-width="0.6" fill="none"/>
<text x="173.46" y="507.63" font-family='"Liberation Serif", serif' font-size="4.2" font-weight="bold" text-anchor="middle" fill="#151515" stroke="#151515" stroke-width="0.06">**</text>
<text x="185.89" y="507.63" font-family='"Liberation Serif", serif' font-size="4.2" font-weight="bold" text-anchor="middle" fill="#151515" stroke="#151515" stroke-width="0.06">**</text>
<text x="198.33" y="507.63" font-family='"Liberation Serif", serif' font-size="4.2" font-weight="bold" text-anchor="middle" fill="#151515" stroke="#151515" stroke-width="0.06">**</text>
<text x="210.77" y="507.13" font-family='"Liberation Serif", serif' font-size="4.2" font-weight="bold" text-anchor="middle" fill="#151515" stroke="#151515" stroke-width="0.06">**</text>
<text x="223.21" y="507.13" font-family='"Liberation Serif", serif' font-size="4.2" font-weight="bold" text-anchor="middle" fill="#151515" stroke="#151515" stroke-width="0.06">**</text>
<text x="235.64" y="507.13" font-family='"Liberation Serif", serif' font-size="4.2" font-weight="bold" text-anchor="middle" fill="#151515" stroke="#151515" stroke-width="0.06">**</text>
<text x="248.08" y="507.13" font-family='"Liberation Serif", serif' font-size="4.2" font-weight="bold" text-anchor="middle" fill="#151515" stroke="#151515" stroke-width="0.06">**</text>
<text x="198.33" y="498.03" font-family='"Liberation Serif", serif' font-size="4.2" font-weight="bold" text-anchor="middle" fill="#151515" stroke="#151515" stroke-width="0.06">**</text>
<text x="210.77" y="497.43" font-family='"Liberation Serif", serif' font-size="4.2" font-weight="bold" text-anchor="middle" fill="#151515" stroke="#151515" stroke-width="0.06">**</text>
<text x="223.21" y="493.83" font-family='"Liberation Serif", serif' font-size="4.2" font-weight="bold" text-anchor="middle" fill="#151515" stroke="#151515" stroke-width="0.06">**</text>
<text x="235.64" y="490.03" font-family='"Liberation Serif", serif' font-size="4.2" font-weight="bold" text-anchor="middle" fill="#151515" stroke="#151515" stroke-width="0.06">**</text>
<text x="248.08" y="481.93" font-family='"Liberation Serif", serif' font-size="4.2" font-weight="bold" text-anchor="middle" fill="#151515" stroke="#151515" stroke-width="0.06">**</text>
<text x="235.64" y="499.93" font-family='"Liberation Serif", serif' font-size="4.2" font-weight="bold" text-anchor="middle" fill="#151515" stroke="#151515" stroke-width="0.06">**</text>
<text x="248.08" y="491.53" font-family='"Liberation Serif", serif' font-size="4.2" font-weight="bold" text-anchor="middle" fill="#151515" stroke="#151515" stroke-width="0.06">**</text>
<text x="223.21" y="472.73" font-family='"Liberation Serif", serif' font-size="4.2" font-weight="bold" text-anchor="middle" fill="#151515" stroke="#151515" stroke-width="0.06">*</text>
<text x="235.64" y="469.33" font-family='"Liberation Serif", serif' font-size="4.2" font-weight="bold" text-anchor="middle" fill="#151515" stroke="#151515" stroke-width="0.06">*</text>
<text x="248.08" y="456.43" font-family='"Liberation Serif", serif' font-size="4.2" font-weight="bold" text-anchor="middle" fill="#151515" stroke="#151515" stroke-width="0.06">*</text>
<text transform="translate(135.9,476.75) rotate(-90)" font-family='"Liberation Serif", serif' font-size="9.6" font-weight="bold" text-anchor="middle" stroke="#000" stroke-width="0.15">OD<tspan font-size="6.53" dy="2.11">600</tspan></text>
<text x="211.90" y="530.30" font-family='"Liberation Serif", serif' font-size="9.75" font-weight="bold" text-anchor="middle" fill="#000" stroke="#000" stroke-width="0.15">Time (h)</text>
<text x="193.10" y="545.40" font-family='"Liberation Serif", serif' font-size="8.2" font-weight="normal" text-anchor="middle" fill="#000" stroke="#000" stroke-width="0.25">(E)</text>
</svg>
</body></html>
